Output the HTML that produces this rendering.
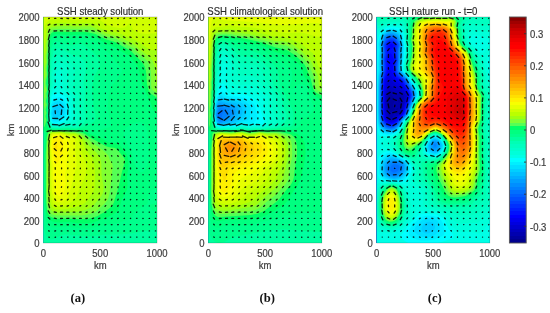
<!DOCTYPE html><html><head><meta charset="utf-8"><title>SSH figure</title><style>
html,body{margin:0;padding:0;background:#fff;width:550px;height:313px;overflow:hidden}
svg{display:block}
.tk{font-family:"Liberation Sans",Arial,sans-serif;font-size:9.5px;fill:#3d3d3d;stroke:#3d3d3d;stroke-width:0.2px}
.tk,.tt,.lb{white-space:pre}
.tt{font-family:"Liberation Sans",Arial,sans-serif;font-size:9.6px;fill:#2a2a2a;stroke:#2a2a2a;stroke-width:0.15px}
.lb{font-family:"Liberation Serif","Times New Roman",serif;font-size:12.6px;font-weight:bold;fill:#111}
</style></head><body><svg xmlns="http://www.w3.org/2000/svg" width="550" height="313" viewBox="0 0 550 313"><defs><clipPath id="cpa"><rect x="43.50" y="17.00" width="113.50" height="226.00"/></clipPath><clipPath id="cpb"><rect x="208.50" y="17.00" width="113.30" height="226.00"/></clipPath><clipPath id="cpc"><rect x="376.70" y="17.00" width="113.10" height="226.00"/></clipPath><filter id="bl" x="-2%" y="-2%" width="104%" height="104%"><feGaussianBlur stdDeviation="0"/></filter></defs><g clip-path="url(#cpa)"><g><rect x="43.50" y="17.00" width="113.50" height="226.00" fill="#00bfff"/><g transform="scale(.1)"><path fill="#00cfff" d="M440 170l1130 0 0 2260-5 0-1130 0 0-2260zM569 1105l-5 10 2 10 9 6 10-5 5-11-4-10-11-3z"/><path fill="#00dfff" d="M440 170l1130 0 0 2260-5 0-1130 0 0-2260zM583 1050l-43 24-18 56 13 45 10 5 25-5 25-10 20-14 13-16 4-15-5-30-12-26-15-14z"/><path fill="#00efff" d="M440 170l1130 0 0 2260-5 0-1130 0 0-2260zM571 1010l-26 12-20 24-6 49-9 35 10 60 5 10 10 6 10 1 39-12 31-16 25-23 10-21 3-30-11-45-18-35-24-16z"/><path fill="#00ffff" d="M440 170l1130 0 0 2260-5 0-1130 0 0-2260zM577 975l-37 10-10 10-19 55 1 40-9 40 6 35 1 31 10 18 25 13 20-1 25-8 44-28 21-22 13-28 3-35-15-70-16-37-15-16-15-9-15-3z"/><path fill="#00ffe6" d="M440 170l1130 0 0 2260-5 0-1130 0 0-2260zM544 940l-19 14-11 16 1 35-12 45 3 35-7 45 6 75 20 27 20 10 45-4 35-17 43-36 12-20 9-25 0-45-18-90-16-33-35-26-35-10z"/><path fill="#00ffd9" d="M440 170l1130 0 0 2260-5 0-1130 0 0-2260zM561 895l-21 8-10 8-26 59 3 35-9 45 3 35-6 45 3 70 17 35 20 16 55 1 34-12 55-35 19-25 9-20 4-50-16-110-13-35-25-25-62-43-15-5z"/><path fill="#00ffcc" d="M440 170l1130 0 0 2260-5 0-1130 0 0-2260zM584 700l-19 14-12 21-5 25 7 50-3 25-10 25-27 40-16 65 1 45-5 40-3 80 2 70 16 41 20 19 60 2 35-9 70-28 25-16 13-34 3-55-19-145-18-30-49-45-12-20-11-40-1-75-6-35-15-24-10-6z"/><path fill="#00ffc0" d="M440 170l1130 0 0 2260-5 0-1130 0 0-2260zM589 625l-24 13-14 17-32 90 11 80-6 30-20 45-10 70-6 160 3 70 13 45 11 15 10 7 75 3 50-14 45-9 50 3 10-5 10-15 3-20-2-60-13-100 0-65-10-30-49-65-12-25-3-25 0-115-11-45-16-25-22-20-20-10z"/><path fill="#00ffb4" d="M440 170l1130 0 0 2260-5 0-1130 0 0-2260zM571 555l-21 21-25 43-3 61-17 70 10 75-17 75-8 70-5 185 5 67 15 38 9 10 11 5 70 2 75-14 45 1 35 6 23-10 19-20 8-30 2-55-12-100 1-85-11-31-33-44-10-35 1-35 13-80-2-45-8-25-14-25-63-65-29-20-25-12-20-3z"/><path fill="#00ffa0" d="M440 170l1130 0 0 2260-5 0-1130 0 0-2260zM569 485l-34 26-12 59-17 50 3 55-12 75 6 80-16 130-6 135 0 75 8 70 16 31 10 8 15 4 70 0 80-10 70 7 30-7 25-13 23-20 20-30 8-25-13-125 8-150-15-80 22-140-2-55-17-30-41-30-98-38-85-49-25-6z"/><path fill="#00ff8c" d="M440 170l1130 0 0 2131-45-1-60 8-190 31-235 8-145 17-65-1-135-17-50-1-35 8-65 34-30 7-15-1-16-8-14-14-12-21-15-40-8-38 0-2102zM552 415l-15 15-29 65 2 60-13 65 1 55-7 75 1 85-12 165 1 50-4 45 0 75 4 65 6 20 17 25 21 8 70 1 80-6 80 6 66-14 94-40 30-25 8-15 3-20-2-30-21-90-1-80-7-80 2-55 21-85 37-65 12-30 3-35-6-25-18-30-27-30-85-75-34-20-35-7-65 14-25 1-30-6-100-33z"/><path fill="#00ff80" d="M440 170l1130 0 0 1741-11-11-19-5-15 1-16 9-12 15-9 25-12 90-11 10-55 27-30 24-67 74-28 20-35 18-65 19-155 28-130 31-80 2-145-21-145 7-35-14-15-14-17-26-9-25-5-30-12-190 3-75-2-360 4-180-2-19-5-9 0-1162zM542 375l-12 8-12 17-22 100 2 45-8 75-7 280-9 105 4 45-7 45 5 35-5 35 5 35-1 40 15 38 15 12 25 5 140-3 90 5 90-4 85 6 40 0 40-7 85-22 13-15-1-25-17-50-16-90-1-60 10-90 17-55 17-35 78-100 16-25 5-25-7-20-59-54-24-51-29-35-123-95-59-35-53-20-52-11-30 0-100 13-50-5-65-15zM1355 1225l-50 22-45 30-20 28-4 30 8 35 26 65 47 90 19 90 29 63 23 32 22 12 20-5 20-20 18-37 13-40 8-50-1-120-14-125-9-40-10-25-16-20-24-14-30-6zM1570 2021l0 98-20-2-25-17-22-30-2-10 2-10 12-7 40-11z"/><path fill="#00ff66" d="M440 170l1130 0 0 970-27-30-19-30-26-80-35-65-13-35-30-60-12-40-15-90-16-45-38-55-55-55-129-80-100-43-90-52-40-16-55-13-55-6-140 7-115-11-30 8-20 26-10 25-11 90-11 200 1 60-6 70 5 80-6 35 2 35-7 35 7 45-9 40 6 40-6 30 2 20 5 20-6 35 2 20 11 30 11 10 35 5 150 0 160 13 30 9 45 22 95 30 80 50 20 5 50 2 25 9 30 26 57 79 13 35 6 60-2 45-14 67 6 98-6 45-53 105-28 90-18 25-26 21-65 34-120 45-50 15-50 6-60-1-105-16-100 6-45-2-40-16-20-15-15-18-10-24-6-30-11-150 0-430 11-205-7-20-17-13 0-1132z"/><path fill="#55ff55" d="M440 170l1130 0 0 811-10-11-50-32-24-33-17-70-5-90-7-45-12-40-21-35-114-115-150-85-25-11-80-22-100-53-75-17-65-5-130 3-125-5-30 5-20 14-10 23-11 43-13 155 1 65-8 60 4 70-9 50-2 35 11 65-8 35 4 35-10 40 10 40-13 45 9 35-8 25-1 15 9 30-17 60-3 7-10 3 0-1100zM495 1309l145-3 125 9 55 12 30 13 60 39 150 83 30 10 50 6 15 5 20 17 55 64 18 31 1 20-29 100-34 155-48 155-16 30-24 25-62 45-61 34-55 21-55 11-65 2-105-9-125 4-50-13-20-12-13-13-16-35-11-120-3-445 11-185 12-45z"/><path fill="#80ff33" d="M440 170l1130 0 0 760-40-25-15-25-4-35-1-125-13-60-17-40-25-28-70-58-50-52-115-61-60-33-95-24-105-51-60-18-45-3-265-3-60 6-25 12-10 15-6 18-15 105 0 55-9 65 4 55-11 65 7 65-12 45-4 35 3 35 11 35-10 30 0 35-6 15-2 20 2 25 9 25-10 15-11 37 0-932zM515 1314l105-2 135 10 46 13 42 25 82 71 82 54 53 45 23 25 17 45 23 40 5 25-32 265-11 45-15 32-18 23-53 50-39 34-30 15-56 16-64 9-240 2-50-12-15-9-13-15-18-85-8-125 1-370 4-105 8-75 14-35z"/><path fill="#a0ff10" d="M440 170l1130 0 0 688-7-28-9-135-12-45-18-45-27-35-91-65-36-38-45-32-140-69-125-33-60-24-55-31-30-10-40-5-80 3-170-7-55 4-60 12-15 9-10 13-13 63-10 90 2 50-10 55 4 65-11 60 3 70-15 79 0-659zM525 1319l85-2 75 11 65 2 35 12 27 18 21 20 62 82 70 66 28 37 13 30 7 35 2 125 20 100 0 45-7 30-15 30-84 100-27 20-37 16-50 14-60 10-175 5-50-10-15-10-8-10-20-65-12-125 1-360 4-110 8-75 13-30z"/><path fill="#bbff00" d="M440 170l1130 0 0 339-15-10-40 3-20-5-115-81-60-31-55-22-85-35-85-17-85-27-10-5-35-32-45-14-45-3-95 4-175-6-50 5-45 11-34 21-10 15-4 15-27 378 0-503zM535 1325l65-2 85 16 65 1 29 15 36 40 16 30 24 65 55 75 20 35 12 40 6 65 2 50-4 125-14 35-47 75-24 30-21 17-37 18-53 17-90 18-50 6-35-2-30-7-20-15-13-22-10-35-16-115 3-70-4-80 4-70-4-85 2-145 6-75 6-25 11-17z"/><path fill="#d0ff00" d="M440 170l1130 0 0 161-115 10-70-14-29-12-20-15-14-20-6-20-5-20-11-9-15 8-25 29-20 9-40 3-63-10-67-20-65-45-65-12-55-1-140 7-160-11-65 5-25 7-20 15-20 28-13 27-3 25 2 95-6 67 0-287zM560 1330l45-1 80 22 59 4 24 15 24 40 20 105 44 105 7 35 1 40-12 70-55 115-31 85-16 25-20 20-38 25-32 15-35 10-35 3-25-4-20-10-15-19-10-27-20-103 2-70-5-80 4-70-6-85 1-155 5-65 9-30 15-11z"/><path fill="#e6ff00" d="M1075 170l116 0-11 4-50 8zM540 1339l65-2 65 26 55 13 20 14 10 25 2 25-6 70 15 100-2 55-72 275-13 30-20 25-29 19-30 9-25-3-17-10-13-18-24-72-10-170 4-80-8-70-5-125 5-80 5-30 11-20z"/><path fill="#f8ff00" d="M545 1349l50-4 17 5 70 50 10 10 6 15 0 20-18 100-15 60-1 75-14 70 7 55-1 40-9 45-12 35-10 16-15 14-15 5-10-2-15-9-10-13-15-42-5-74-10-70 5-80-14-70-2-55-9-65 5-80 5-25 10-19z"/><path fill="#fff000" d="M550 1364l35-3 20 7 17 22 12 35 1 25-10 75-36 85-7 15-7 7-10-3-15-19-6-15-7-55-16-55 7-90 8-20z"/><path fill="#ffdf00" d="M560 1438l10 7 4 20-9 30-10 0-10-12-1-13 6-18z"/></g><path fill="none" stroke="#000" stroke-linecap="round" stroke-width="1.35" stroke-opacity="0.85" d="M49.3 18.3l-0.6 0.2M55.8 18.4l-1.1 0.0M62.3 18.5l-1.4-0.1M68.6 18.5l-1.6-0.2M74.9 18.4l-1.6 0.0M81.1 18.3l-1.5 0.1M87.4 18.4l-1.5 0.1M93.6 18.4l-1.4-0.1M99.8 18.6l-1.3-0.3M105.9 18.6l-0.9-0.4M112.0 18.4l-0.6-0.1M118.2 18.3l-0.5 0.2M124.5 18.2l-0.6 0.3M130.8 18.4l-0.7 0.0M136.9 18.5l-0.3-0.2M143.1 18.4l-0.1-0.0M149.4 18.3l-0.1 0.2M155.6 18.4l-0.1 0.1M49.9 24.2l-1.7 1.0M56.2 24.5l-1.9 0.3M62.5 24.6l-2.0 0.1M68.8 24.7l-2.0-0.1M75.1 24.7l-2.1-0.1M81.3 24.6l-1.9 0.1M87.6 24.6l-1.9 0.0M93.7 24.9l-1.6-0.4M99.4 25.0l-0.6-0.7M105.8 24.9l-0.8-0.5M112.1 24.8l-0.8-0.2M118.3 24.6l-0.6 0.0M124.4 24.5l-0.4 0.3M130.5 24.7l-0.1-0.2M136.8 24.9l-0.1-0.5M143.1 24.7l-0.1-0.0M149.4 24.6l-0.1 0.1M155.6 24.6l0.1 0.1M49.7 29.4l-1.3 2.9M56.6 30.8l-2.6 0.2M62.6 30.9l-2.2-0.1M68.8 30.9l-2.1-0.0M75.2 30.9l-2.2 0.0M81.6 30.9l-2.5 0.0M87.7 31.0l-2.2-0.2M94.0 31.2l-2.2-0.6M100.4 31.6l-2.5-1.3M106.3 31.2l-1.8-0.6M112.5 31.0l-1.5-0.3M118.6 31.1l-1.3-0.3M124.6 31.0l-0.7-0.2M130.7 31.0l-0.4-0.2M137.0 31.0l-0.5-0.3M143.3 30.9l-0.6-0.0M149.6 30.9l-0.5 0.0M155.9 30.9l-0.7 0.0M49.5 34.7l-1.1 4.9M56.2 37.0l-1.8 0.3M62.4 37.3l-1.7-0.4M68.6 37.2l-1.6-0.0M74.9 37.0l-1.6 0.2M81.2 37.2l-1.7-0.0M87.4 37.3l-1.6-0.4M93.6 37.4l-1.5-0.5M100.0 37.7l-1.8-1.0M106.5 37.6l-2.0-0.8M112.8 37.3l-2.1-0.4M118.9 37.6l-1.9-0.8M125.0 37.5l-1.5-0.7M131.0 37.4l-1.1-0.4M137.1 37.3l-0.7-0.3M143.3 37.2l-0.5-0.1M149.6 37.1l-0.5 0.1M155.8 37.2l-0.4-0.0M49.3 40.7l-0.6 5.4M55.7 43.1l-0.9 0.6M62.1 43.6l-1.2-0.4M68.3 43.5l-1.0-0.2M74.5 43.3l-0.8 0.2M80.7 43.4l-0.6-0.0M87.0 43.6l-0.7-0.4M93.3 43.6l-0.8-0.5M99.6 43.7l-0.9-0.7M106.0 43.7l-1.2-0.6M112.4 43.6l-1.3-0.4M118.7 43.8l-1.4-0.9M125.1 43.8l-1.7-0.9M131.3 43.8l-1.6-0.8M137.3 43.8l-1.1-0.8M143.3 43.6l-0.6-0.4M149.5 43.4l-0.3-0.0M155.7 43.4l-0.3-0.0M49.2 46.9l-0.4 5.5M55.6 49.4l-0.6 0.5M62.0 49.8l-0.9-0.3M68.2 49.9l-0.8-0.5M74.4 49.6l-0.6 0.0M80.6 49.7l-0.4-0.1M86.8 49.8l-0.4-0.4M93.1 49.8l-0.4-0.3M99.4 49.9l-0.5-0.5M105.7 49.9l-0.6-0.4M112.0 49.8l-0.7-0.4M118.4 49.9l-0.9-0.5M124.8 50.0l-1.2-0.7M131.2 50.1l-1.4-0.8M137.4 50.3l-1.2-1.4M143.5 50.0l-1.0-0.7M149.6 49.8l-0.6-0.3M155.7 49.7l-0.3-0.1M49.2 53.2l-0.4 5.5M55.7 55.3l-0.8 1.2M62.0 56.1l-0.9-0.3M68.2 56.2l-0.9-0.6M74.4 56.0l-0.6-0.3M80.6 56.0l-0.4-0.2M86.8 56.1l-0.4-0.3M93.1 56.1l-0.3-0.4M99.3 56.1l-0.3-0.4M105.6 56.1l-0.3-0.4M111.8 56.1l-0.3-0.4M118.1 56.0l-0.4-0.3M124.5 56.1l-0.6-0.4M130.9 56.3l-0.8-0.8M137.3 56.5l-1.1-1.1M143.7 56.4l-1.3-1.0M149.8 56.3l-1.0-0.7M155.7 56.2l-0.3-0.5M49.1 59.4l-0.2 5.5M55.7 61.7l-0.8 0.9M62.0 62.3l-0.9-0.3M68.2 62.5l-0.7-0.8M74.3 62.4l-0.5-0.5M80.5 62.3l-0.3-0.3M86.7 62.4l-0.2-0.4M92.9 62.4l-0.1-0.4M99.2 62.4l-0.1-0.4M105.5 62.4l-0.1-0.5M111.8 62.3l-0.1-0.4M118.1 62.2l-0.2-0.1M124.4 62.2l-0.3-0.2M130.7 62.4l-0.4-0.5M137.1 62.6l-0.7-0.8M143.5 62.6l-0.8-1.0M149.7 62.8l-0.7-1.2M155.8 62.6l-0.4-1.0M49.2 65.7l-0.4 5.5M55.7 67.6l-0.8 1.6M61.9 68.7l-0.6-0.5M68.0 68.9l-0.4-1.0M74.2 68.7l-0.2-0.7M80.4 68.7l-0.1-0.5M86.6 68.7l0.1-0.5M92.8 68.6l0.2-0.5M99.1 68.6l0.2-0.4M105.4 68.6l0.1-0.4M111.7 68.5l-0.0-0.3M118.0 68.5l-0.1-0.1M124.3 68.5l-0.0-0.1M130.6 68.6l-0.1-0.4M136.9 68.7l-0.2-0.7M143.2 68.9l-0.3-1.0M149.5 69.0l-0.3-1.3M155.7 69.0l-0.3-1.2M49.1 71.9l-0.2 5.5M55.4 74.1l-0.2 1.0M61.6 75.0l-0.2-0.7M67.8 75.2l-0.0-1.1M74.1 75.0l0.1-0.7M80.3 75.0l0.1-0.6M86.5 75.0l0.1-0.6M92.8 74.9l0.2-0.6M99.0 74.8l0.2-0.3M105.4 74.8l0.2-0.3M111.7 74.8l0.1-0.2M117.9 74.7l0.1-0.1M124.2 74.7l0.1-0.1M130.5 74.8l0.0-0.3M136.8 74.9l-0.1-0.6M143.1 75.1l-0.1-1.0M149.4 75.3l-0.1-1.3M155.6 75.3l-0.1-1.2M49.0 78.2l-0.0 5.5M55.2 80.0l0.1 1.8M61.5 81.3l0.0-0.8M67.8 81.5l0.1-1.2M74.0 81.3l0.1-0.8M80.3 81.2l0.1-0.6M86.6 81.2l0.1-0.7M92.8 81.2l0.1-0.6M99.1 81.1l0.2-0.3M105.3 81.0l0.2-0.2M111.6 81.0l0.1-0.2M117.9 81.0l0.2-0.2M124.2 81.0l0.2-0.1M130.5 81.0l0.1-0.1M136.8 81.1l-0.1-0.4M143.1 81.4l-0.2-1.0M149.3 81.6l0.0-1.4M155.6 81.4l-0.0-1.1M49.2 84.4l-0.5 5.5M55.8 86.6l-1.1 1.1M61.8 87.7l-0.6-1.0M68.0 87.7l-0.4-1.2M74.2 87.6l-0.2-1.0M80.4 87.4l-0.1-0.5M86.7 87.5l-0.1-0.7M92.9 87.5l0.0-0.7M99.1 87.3l0.1-0.3M105.4 87.2l0.1-0.2M111.6 87.3l0.1-0.2M117.9 87.3l0.2-0.2M124.2 87.2l0.2-0.1M130.5 87.1l0.1 0.0M136.9 87.2l-0.2-0.1M143.3 87.6l-0.6-1.0M149.5 88.0l-0.3-1.7M155.8 87.6l-0.4-0.8M49.4 90.7l-0.7 5.5M56.0 93.2l-1.4 0.3M62.5 93.9l-2.0-1.0M68.7 94.2l-1.7-1.6M74.6 94.1l-1.1-1.4M80.5 93.8l-0.3-0.9M86.6 93.8l0.0-0.8M92.9 93.8l-0.1-0.7M99.3 93.6l-0.2-0.4M105.4 93.5l-0.0-0.3M111.7 93.5l0.1-0.3M117.9 93.5l0.1-0.2M124.2 93.4l0.0-0.0M130.6 93.3l-0.1 0.2M136.8 93.3l-0.1 0.1M143.2 93.7l-0.3-0.7M149.9 94.1l-1.1-1.4M156.3 93.8l-1.5-0.7M49.0 96.9l-0.1 5.5M56.5 99.3l-2.5 0.7M62.5 100.2l-1.9-1.1M68.2 100.9l-0.8-2.5M74.1 100.6l-0.1-1.9M80.3 100.3l0.0-1.3M86.6 100.1l0.1-0.8M92.9 99.9l0.0-0.6M99.2 99.9l0.0-0.4M105.4 99.8l0.0-0.4M111.7 99.8l0.0-0.3M118.0 99.7l0.0-0.2M124.3 99.6l-0.0 0.0M130.5 99.6l-0.0 0.2M136.8 99.6l0.0 0.1M143.0 99.8l0.1-0.4M149.5 100.0l-0.3-0.8M155.8 100.0l-0.4-0.7M49.1 103.2l-0.3 5.5M57.5 105.1l-4.5 1.6M63.0 107.3l-3.0-2.9M68.3 107.8l-1.0-3.7M74.2 107.0l-0.3-2.2M80.4 106.6l-0.1-1.3M86.6 106.3l-0.0-0.8M92.9 106.2l-0.1-0.5M99.2 106.1l-0.0-0.4M105.4 106.1l-0.0-0.4M111.7 106.1l0.0-0.3M118.0 106.0l0.0-0.1M124.2 105.9l-0.0 0.1M130.5 105.8l-0.0 0.2M136.8 105.9l0.0 0.0M143.0 106.0l0.0-0.3M149.4 106.2l-0.1-0.5M155.7 106.2l-0.3-0.6M49.1 109.4l-0.3 5.5M55.1 110.8l0.3 2.7M61.3 114.4l0.4-4.5M67.7 114.3l0.2-4.3M74.2 113.3l-0.2-2.4M80.4 112.9l-0.2-1.5M86.7 112.5l-0.2-0.8M93.0 112.4l-0.2-0.5M99.2 112.4l-0.1-0.5M105.5 112.4l-0.1-0.4M111.7 112.3l-0.1-0.3M118.0 112.2l-0.1-0.2M124.3 112.1l-0.1 0.1M130.6 112.1l-0.1 0.1M136.8 112.1l-0.1 0.0M143.1 112.2l-0.2-0.2M149.5 112.3l-0.3-0.4M155.8 112.4l-0.4-0.5M48.8 115.7l0.4 5.5M52.8 118.3l4.9 0.2M59.4 119.9l4.3-2.9M66.8 119.8l1.9-2.8M74.0 119.2l0.2-1.7M80.3 119.2l0.1-1.6M86.6 118.8l0.1-0.7M92.8 118.7l0.1-0.6M99.1 118.6l0.1-0.5M105.4 118.6l-0.0-0.4M111.8 118.5l-0.1-0.3M118.1 118.5l-0.2-0.1M124.3 118.4l-0.2 0.1M130.6 118.3l-0.2 0.1M136.9 118.4l-0.2 0.0M143.1 118.4l-0.2-0.1M149.4 118.5l-0.2-0.2M155.8 118.6l-0.4-0.4M48.0 122.1l2.0 5.1M52.5 124.5l5.5 0.3M59.1 125.7l5.0-2.1M65.8 125.1l4.1-0.8M73.1 124.8l1.9-0.3M79.5 125.6l1.6-1.9M86.0 125.0l1.2-0.7M92.5 124.8l0.8-0.3M98.9 124.8l0.4-0.3M105.3 124.8l0.2-0.2M111.7 124.8l0.0-0.2M118.0 124.7l-0.1-0.0M124.3 124.6l-0.2 0.1M130.6 124.6l-0.2 0.1M136.9 124.6l-0.2 0.0M143.1 124.7l-0.1-0.1M149.3 124.8l-0.1-0.2M155.6 124.8l0.1-0.4M47.1 131.5l3.9-1.2M52.5 131.0l5.5-0.1M58.3 130.7l6.4 0.3M64.2 130.6l7.2 0.6M70.1 130.7l7.9 0.4M78.0 130.7l4.7 0.5M85.5 130.6l2.1 0.5M92.4 130.8l1.1 0.1M98.8 130.9l0.7-0.0M105.2 131.0l0.5-0.1M111.5 130.9l0.4 0.1M117.9 130.8l0.1 0.1M124.3 130.8l-0.1 0.2M130.6 130.8l-0.1 0.1M136.9 130.9l-0.1-0.0M143.1 131.0l-0.1-0.2M149.3 131.1l-0.0-0.3M155.6 131.1l-0.0-0.4M48.5 139.9l1.0-5.4M53.7 137.7l3.2-1.1M60.2 136.2l2.8 2.0M66.3 136.5l3.0 1.2M73.1 136.7l1.9 0.9M79.3 136.0l2.2 2.3M85.6 136.3l2.0 1.7M92.1 136.8l1.6 0.7M98.6 136.9l1.1 0.4M105.2 137.0l0.4 0.4M111.7 137.1l-0.0 0.1M117.8 137.0l0.3 0.2M124.2 137.0l0.1 0.3M130.5 137.1l-0.0 0.2M136.8 137.2l-0.1-0.0M143.1 137.3l-0.1-0.2M149.3 137.3l-0.0-0.4M155.6 137.4l-0.0-0.4M48.7 146.1l0.6-5.5M54.3 144.4l2.0-2.0M60.7 142.2l1.6 2.5M67.6 142.4l0.5 2.0M74.1 142.7l-0.0 1.3M80.2 142.5l0.4 1.7M86.2 142.7l0.9 1.5M92.3 143.0l1.2 0.9M98.5 143.0l1.2 0.7M104.8 143.1l1.2 0.7M111.0 143.4l1.4 0.1M117.5 143.2l0.9 0.5M124.1 143.1l0.4 0.7M130.5 143.2l0.1 0.3M136.8 143.4l-0.0 0.0M143.1 143.5l-0.1-0.2M149.3 143.6l-0.0-0.4M155.6 143.6l-0.0-0.4M49.0 152.4l-0.1-5.5M56.2 150.6l-1.9-1.9M62.2 148.2l-1.3 2.8M68.1 148.5l-0.5 2.2M74.1 149.1l-0.1 1.1M80.2 149.0l0.2 1.2M86.3 149.1l0.7 1.0M92.5 149.3l0.9 0.7M98.7 149.3l0.8 0.7M105.0 149.4l0.9 0.6M111.3 149.6l0.9 0.1M117.6 149.2l0.8 0.9M123.8 149.1l0.8 1.1M130.3 149.3l0.3 0.6M136.8 149.6l0.0 0.1M143.1 149.8l-0.0-0.2M149.3 149.9l-0.0-0.4M155.6 149.9l-0.0-0.4M49.2 158.6l-0.3-5.5M56.2 156.7l-1.8-1.6M62.5 155.1l-1.9 1.6M68.1 155.3l-0.5 1.2M74.0 155.5l0.1 0.8M80.2 155.5l0.3 0.9M86.4 155.5l0.5 0.8M92.6 155.5l0.5 0.7M98.9 155.5l0.5 0.8M105.3 155.6l0.3 0.6M111.6 155.8l0.2 0.2M117.7 155.7l0.5 0.5M123.8 155.3l0.8 1.2M130.4 155.3l0.2 1.2M136.7 155.8l0.1 0.2M143.0 156.0l0.0-0.2M149.3 156.1l0.0-0.4M155.6 156.1l0.0-0.4M49.2 164.9l-0.5-5.5M55.7 162.7l-0.9-1.1M61.6 161.7l-0.1 1.0M67.9 161.8l-0.1 0.6M74.1 161.8l-0.0 0.7M80.3 161.8l0.1 0.7M86.5 161.8l0.2 0.8M92.8 161.8l0.2 0.8M99.1 161.7l0.2 0.9M105.4 161.8l0.1 0.7M111.6 162.0l0.1 0.2M118.0 162.0l0.0 0.3M124.4 161.5l-0.2 1.2M130.3 161.5l0.3 1.3M136.7 162.0l0.2 0.3M143.0 162.2l0.1-0.2M149.3 162.3l0.1-0.4M155.6 162.3l0.0-0.4M49.0 171.0l0.1-5.3M55.3 169.1l-0.1-1.4M61.6 168.0l-0.0 0.7M67.9 168.0l-0.1 0.7M74.1 168.1l-0.1 0.6M80.4 168.1l-0.1 0.6M86.6 168.1l0.0 0.7M92.9 168.0l0.1 0.8M99.2 167.9l0.0 0.9M105.4 168.1l-0.0 0.7M111.7 168.2l-0.0 0.3M118.1 168.1l-0.2 0.6M124.4 167.8l-0.4 1.1M130.5 167.9l-0.0 1.0M136.7 168.2l0.2 0.3M143.0 168.5l0.2-0.1M149.3 168.6l0.1-0.3M155.6 168.6l0.0-0.3M49.0 177.3l0.1-5.4M55.3 175.2l-0.0-1.2M61.6 174.2l-0.0 0.9M67.9 174.3l-0.1 0.7M74.2 174.4l-0.2 0.6M80.4 174.4l-0.2 0.5M86.7 174.4l-0.1 0.6M92.9 174.3l-0.0 0.7M99.1 174.2l0.1 1.0M105.4 174.3l0.0 0.7M111.7 174.5l-0.1 0.4M118.1 174.3l-0.2 0.8M124.3 174.1l-0.2 1.1M130.5 174.3l0.0 0.6M136.7 174.5l0.1 0.3M143.0 174.7l0.1-0.0M149.3 174.8l0.0-0.2M155.6 174.8l-0.1-0.3M49.1 183.5l-0.2-5.1M55.4 181.6l-0.3-1.5M61.5 180.6l-0.0 0.7M67.8 180.4l-0.0 1.0M74.2 180.6l-0.2 0.7M80.5 180.6l-0.3 0.5M86.7 180.7l-0.2 0.5M92.9 180.6l-0.1 0.6M99.1 180.5l0.1 0.8M105.3 180.5l0.2 0.8M111.7 180.6l-0.1 0.6M118.1 180.5l-0.2 0.8M124.3 180.5l-0.0 0.9M130.4 180.6l0.1 0.5M136.7 180.8l0.1 0.3M143.0 180.9l0.1 0.1M149.4 180.9l-0.1-0.1M155.7 181.0l-0.2-0.2M48.8 189.7l0.4-5.0M55.3 187.8l-0.1-1.4M61.6 186.8l-0.2 0.6M67.9 186.6l-0.3 1.1M74.2 186.8l-0.3 0.7M80.5 186.9l-0.3 0.5M86.7 187.0l-0.2 0.4M92.9 186.9l-0.1 0.4M99.1 186.8l0.1 0.7M105.4 186.7l0.0 0.9M111.8 186.7l-0.1 0.8M118.1 186.8l-0.2 0.7M124.3 186.8l-0.1 0.7M130.5 186.9l-0.0 0.4M136.8 187.0l0.1 0.3M143.1 187.1l-0.0 0.2M149.4 187.1l-0.1 0.0M155.7 187.2l-0.2-0.1M49.4 195.8l-0.8-4.8M55.6 194.1l-0.6-1.3M61.8 193.1l-0.5 0.5M68.0 192.9l-0.3 1.0M74.2 193.1l-0.2 0.7M80.4 193.1l-0.2 0.5M86.7 193.2l-0.1 0.4M93.0 193.2l-0.3 0.4M99.4 193.1l-0.4 0.7M105.6 192.9l-0.2 0.9M111.8 193.0l-0.2 0.9M118.1 193.0l-0.3 0.8M124.4 193.1l-0.3 0.6M130.6 193.2l-0.2 0.3M136.9 193.3l-0.2 0.2M143.1 193.3l-0.1 0.2M149.3 193.4l-0.0 0.1M155.6 193.4l-0.0-0.0M49.2 201.8l-0.4-4.3M55.7 200.3l-0.9-1.3M62.0 199.5l-1.0 0.4M68.2 199.2l-0.8 0.8M74.3 199.4l-0.5 0.6M80.5 199.4l-0.4 0.4M86.8 199.4l-0.3 0.5M93.1 199.4l-0.5 0.6M99.5 199.3l-0.6 0.7M105.7 199.3l-0.5 0.7M111.8 199.2l-0.3 0.9M118.1 199.2l-0.3 0.9M124.4 199.3l-0.4 0.6M130.6 199.5l-0.2 0.2M136.9 199.6l-0.2 0.1M143.1 199.6l-0.1 0.1M149.3 199.6l0.0 0.0M155.6 199.7l0.0-0.0M49.5 207.7l-0.9-3.7M56.1 206.3l-1.6-0.9M62.4 205.8l-1.7 0.2M68.5 205.7l-1.3 0.5M74.6 205.7l-1.0 0.3M80.8 205.7l-0.9 0.3M87.0 205.7l-0.8 0.5M93.2 205.6l-0.7 0.6M99.5 205.5l-0.6 0.7M105.8 205.6l-0.7 0.6M112.0 205.5l-0.6 0.8M118.1 205.5l-0.3 0.8M124.2 205.6l0.0 0.5M130.5 205.8l-0.0 0.2M136.8 205.8l-0.1 0.1M143.1 205.9l-0.1 0.0M149.3 205.9l-0.0-0.0M155.6 205.9l0.1-0.0M49.7 213.4l-1.4-2.5M56.3 212.4l-2.0-0.4M62.6 212.1l-2.1 0.1M68.8 212.1l-1.9 0.1M74.9 212.1l-1.7 0.0M81.1 212.0l-1.4 0.2M87.2 212.0l-1.2 0.3M93.4 211.9l-1.1 0.5M99.7 211.8l-1.0 0.7M105.9 211.9l-0.9 0.6M112.1 211.9l-0.7 0.5M118.2 211.9l-0.4 0.4M124.3 212.0l-0.2 0.3M130.6 212.0l-0.1 0.3M136.8 212.1l-0.1 0.1M143.1 212.1l-0.2 0.0M149.4 212.2l-0.2-0.1M155.7 212.2l-0.2-0.0M49.8 219.1l-1.5-1.5M56.2 218.6l-1.8-0.4M62.5 218.4l-1.9 0.1M68.8 218.3l-2.0 0.1M75.0 218.5l-1.8-0.2M81.2 218.4l-1.6-0.0M87.3 218.3l-1.4 0.2M93.6 218.2l-1.3 0.4M99.8 218.1l-1.2 0.5M105.9 218.2l-0.9 0.4M112.1 218.3l-0.7 0.3M118.2 218.3l-0.6 0.2M124.5 218.3l-0.4 0.2M130.7 218.3l-0.3 0.2M136.9 218.3l-0.3 0.1M143.2 218.4l-0.3 0.1M149.5 218.4l-0.3 0.0M155.8 218.4l-0.4-0.0M49.4 225.0l-0.8-0.7M55.9 224.7l-1.2-0.1M62.2 224.6l-1.4 0.1M68.4 224.7l-1.3-0.0M74.7 224.8l-1.3-0.2M81.0 224.7l-1.3-0.1M87.2 224.6l-1.3 0.1M93.5 224.5l-1.1 0.3M99.6 224.5l-1.0 0.3M105.8 224.6l-0.8 0.2M112.0 224.6l-0.7 0.1M118.3 224.6l-0.6 0.1M124.5 224.6l-0.5 0.1M130.7 224.6l-0.4 0.1M137.0 224.6l-0.3 0.1M143.2 224.6l-0.3 0.1M149.5 224.6l-0.3 0.1M155.7 224.7l-0.3-0.0M49.2 231.1l-0.5-0.3M55.6 230.8l-0.7 0.2M61.9 230.9l-0.7 0.1M68.2 230.9l-0.8-0.1M74.5 231.0l-0.8-0.2M80.8 231.0l-0.9-0.1M87.1 230.9l-0.9 0.0M93.3 230.8l-0.8 0.2M99.5 230.8l-0.7 0.2M105.7 230.9l-0.6 0.0M112.0 230.9l-0.6 0.0M118.2 230.9l-0.5 0.0M124.5 230.9l-0.5 0.1M130.7 230.9l-0.4 0.1M137.0 230.9l-0.4 0.1M143.2 230.9l-0.3 0.1M149.5 230.9l-0.3 0.0M155.7 230.9l-0.3-0.0M49.2 237.3l-0.3-0.2M55.5 237.1l-0.4 0.2M61.7 237.1l-0.4 0.2M68.0 237.1l-0.4 0.0M74.3 237.2l-0.5-0.1M80.7 237.2l-0.6-0.1M86.9 237.2l-0.6-0.0M93.2 237.1l-0.6 0.0M99.4 237.1l-0.5 0.1M105.7 237.1l-0.5 0.0M111.9 237.2l-0.5-0.0M118.2 237.2l-0.4-0.0M124.5 237.1l-0.4 0.0M130.7 237.1l-0.4 0.0M137.0 237.1l-0.4 0.0M143.2 237.1l-0.3 0.0M149.5 237.1l-0.3 0.0M155.7 237.2l-0.3-0.0"/></g></g><rect x="43.50" y="17.00" width="113.50" height="226.00" fill="none" stroke="#262626" stroke-opacity="0.35" stroke-width="0.6"/><g clip-path="url(#cpb)"><g><rect x="208.50" y="17.00" width="113.30" height="226.00" fill="#0070ff"/><g transform="scale(.1)"><path fill="#0080ff" d="M2090 170l1128 0 0 2260-5 0-1128 0 0-2260zM2201 1110l-16 20-7 20 12 25 10 8 10-1 9-12 2-20 9-25-3-10-7-7-10-2z"/><path fill="#008fff" d="M2090 170l1128 0 0 2260-5 0-1128 0 0-2260zM2197 1080l-27 60 1 20 14 30 15 14 15-1 20-13 44-45 4-10-1-15-12-18-25-15-30-10z"/><path fill="#009fff" d="M2090 170l1128 0 0 2260-5 0-1128 0 0-2260zM2189 1055l-6 10-20 85 22 59 15 10 15-1 60-33 31-20 15-20 4-25-7-20-16-15-22-10-75-22z"/><path fill="#00afff" d="M2090 170l1128 0 0 2260-5 0-1128 0 0-2260zM2190 1035l-10 8-7 12-2 40-12 55 21 67 15 11 20 1 84-34 32-20 23-30 6-30-10-28-17-17-20-10-78-16-30-11z"/><path fill="#00bfff" d="M2090 170l1128 0 0 2260-5 0-1128 0 0-2260zM2199 1015l-19 13-14 27-1 40-10 55 20 72 20 15 20 2 106-34 38-25 24-30 10-35-3-20-7-15-19-20-29-16-75-13-45-15z"/><path fill="#00cfff" d="M2090 170l1128 0 0 2260-5 0-1128 0 0-2260zM2192 1000l-17 20-14 30-1 40-7 55 12 66 9 19 21 15 20 2 105-23 30-14 45-30 25-35 6-20 0-25-5-20-9-15-23-20-39-17-90-13-50-19z"/><path fill="#00dfff" d="M2090 170l1128 0 0 2260-5 0-1128 0 0-2260zM2190 980l-15 24-19 46-6 105 11 60 10 20 19 15 25 5 55-12 65-6 47-22 49-30 15-15 8-15 8-30 2-25-5-25-12-20-30-25-43-17-39-8-75-6-50-23-10-1z"/><path fill="#00efff" d="M2090 170l1128 0 0 2260-5 0-1128 0 0-2260zM2194 955l-19 23-22 72-6 110 12 60 11 21 15 13 20 7 70-9 65-2 79-33 65-17 14-15 10-95-6-25-14-20-34-28-40-17-59-13-95-5-18-7-27-22-10-1z"/><path fill="#00ffff" d="M2090 170l1128 0 0 2260-5 0-1128 0 0-2260zM2209 915l-19 20-20 30-21 85-4 115 10 56 15 28 20 15 25 4 65-8 65 1 79-28 25-2 27 4 28 3 24-8 27-20 15-25 0-25-14-80-9-25-13-20-43-35-52-22-70-12-106-6-13-10-25-35-10-2z"/><path fill="#00ffe6" d="M2090 170l1128 0 0 2260-5 0-1128 0 0-2260zM2224 835l-14 13-20 37-9 35-21 50-13 75-5 75 1 50 9 55 12 25 21 17 25 6 70-5 70 2 49-18 30-6 25 1 45 11 34-8 41-10 45 5 14-10 7-15-2-25-21-55-18-80-17-35-19-20-39-27-50-26-50-10-109-7-25-7-18-18-32-67-10-8z"/><path fill="#00ffd9" d="M2090 170l1128 0 0 2260-5 0-1128 0 0-2260zM2236 635l-9 10-6 15-9 55-16 50-5 60-36 145-11 70-6 70 2 60 7 50 8 25 10 14 13 11 32 8 65-3 75 2 74-20 25 1 50 12 50-11 25-2 40 7 15-2 26-17 15-25 0-40-19-70-13-85-8-30-11-15-15-12-105-57-40-7-114-2-25-7-15-10-14-25-25-80-1-116-12-24-8-6z"/><path fill="#00ffcc" d="M2090 170l1128 0 0 2260-5 0-1128 0 0-2260zM2239 555l-14 6-10 14-21 65-5 75-12 55-1 60-11 50-3 35-19 110-8 80 2 70 7 50 8 25 11 15 12 9 35 9 135 0 79-17 75 12 60-9 35 1 30 3 36-13 32-25 15-30 0-25-24-100-1-85-8-29-15-20-20-18-80-56-35-19-45-8-105 7-24-7-15-11-21-29-14-35 13-75-2-30-7-30-29-55-20-20z"/><path fill="#00ffc0" d="M2090 170l1128 0 0 2260-5 0-1128 0 0-2260zM2226 505l-16 13-11 22-21 100-2 70-11 60 0 60-33 260 2 100 8 45 8 22 10 13 14 10 36 8 130 1 79-15 85 12 60-9 55 4 32-6 53-19 40-7 15-12 7-17-1-30-28-65-15-55-1-25 8-55-9-30-22-30-57-60-57-68-35-32-40-14-90 3-19-4-11-7-12-18-38-105-41-70-19-25-19-18-20-8z"/><path fill="#00ffb4" d="M2090 170l1128 0 0 2260-5 0-1128 0 0-2260zM2213 470l-18 22-18 63-12 95 0 50-9 70 0 65-29 260 4 100 9 50 8 20 17 17 25 9 130 4 30-1 69-13 80 12 70-9 60 3 57-12 63-5 14-5 31-25 15-30 1-40-32-95-4-85-11-35-70-90-22-40-47-100-20-30-24-25-21-15-20-8-90-7-40-14-25-17-29-29-55-72-25-25-35-17z"/><path fill="#00ffa0" d="M2090 170l1128 0 0 2260-5 0-1128 0 0-2260zM2211 440l-20 15-12 25-14 70-9 100-9 195-16 205-8 50 5 50-1 45 8 55 8 20 17 16 25 9 135 6 94-13 90 11 65-8 65 2 70-10 45-2 49-16 42-30 21-35 5-40-58-195-18-35-40-50-10-20-39-135-20-45-40-45-57-40-60-21-95-14-40-11-29-19-55-58-25-20-35-14z"/><path fill="#00ff8c" d="M2090 170l1128 0 0 2151-155-11-214-17-75 2-105 11-150 31-164 27-40 15-70 41-40 10-30-3-30-13-20-19-20-33-20-64 0-2128zM2211 415l-21 11-19 29-6 20-9 75-18 330-11 130 0 40-9 50 7 50-3 35 7 65 11 29 15 13 25 7 140 7 94-12 85 12 80-9 70 1 110-8 46-10 49-10 45 0 20-11 9-14 6-20 2-80-6-30-11-30-115-225-8-30-10-95-13-35-20-35-20-25-28-25-76-56-45-26-60-22-159-34-60-41-35-16-30-7z"/><path fill="#00ff80" d="M2090 170l1128 0 0 1863-15 1-7 16 6 15 16 11 0 39-15 5-55-5-65 12-60 11-104 8-55 8-165 49-98 17-77 22-55 10-75 3-124-6-25 6-50 21-25 4-30-12-25-32-9-26-6-44-7-186 3-580-4-50-7-17 0-1163zM2206 395l-26 15-15 25-10 35-7 75-15 335-5 90-6 40 2 40-11 50 8 50-4 35 5 35 1 40 12 29 15 9 25 6 140 8 94-12 95 12 80-9 75 2 180-12 75 2 47-10 34-20 8-15 0-35 20-23 55-28 30-27 27-42 4-20-1-15-44-90-7-30-6-55-23-26-35-17-35-1-25 10-34 36-15 2-13-9-2-21 19-54 6-45-4-40-17-30-112-90-87-48-60-42-45-22-49-18-81-19-65-23-54-6-90-27-30-3zM3049 1255l-3 5 2 7 5 2 9-4 1-10-5-3z"/><path fill="#00ff66" d="M2090 170l1128 0 0 835-65-42-25-28-10-22-15-55-63-103-27-80-13-25-37-32-56-38-58-31-105-35-66-34-54-22-205-55-64-8-75-17-40-5-40 4-15 6-15 13-12 19-11 45-10 130-12 235 2 55-6 45 1 45-6 40 3 40-12 50 10 50-6 35 5 35-4 60 3 15 15 10 110 8 85 4 89-11 90 13 85-11 80 4 110-4 140 12 54 18 40 32 28 45 12 50 3 60-7 70-32 150-21 65-24 50-57 80-37 65-44 47-102 63-66 35-47 17-95 22-90 10-174 0-75 12-30-7-20-19-10-20-10-32-10-88-4-170 0-245 6-295-3-20-4-6-15-6 0-1133z"/><path fill="#55ff55" d="M2090 170l1128 0 0 785-50-23-15-12-15-20-8-20-21-85-45-115-16-31-25-31-75-69-71-44-38-16-85-14-130-50-170-38-159-28-45-4-40 1-25 7-20 14-12 18-7 20-10 65-14 225 1 65-6 55 3 55-7 45 3 45-7 40 3 40-12 50 9 55-6 30-3 57-7 23-8 8 0-1103zM2379 1315l40-3 85 14 90-13 75 7 85-3 45 4 95 18 16 6 30 25 20 40 10 60 0 90-22 125-9 85-13 45-20 35-48 55-64 85-30 27-125 92-50 23-80 17-304 22-25-2-20-9-16-15-14-25-16-85-5-130 1-400 13-165 12-17 25-6 45-1 110 7z"/><path fill="#80ff33" d="M2090 170l1128 0 0 752-40-19-22-23-5-15-6-70-9-35-44-105-26-40-86-85-51-39-65-35-55-9-60-6-100-37-65-12-90-23-95-12-94-18-45-3-50 2-30 6-20 13-19 33-11 60-16 255 2 65-7 55 1 55-6 45-2 115-10 50 0 80-7 35 0-1035zM2379 1320l40-2 85 15 90-14 85 10 90-2 46 13 64 27 19 18 14 30 7 40 3 100-7 45-18 80-9 85-8 35-23 35-88 102-35 31-78 57-52 50-40 21-55 14-219 24-75 4-30-4-25-14-15-22-15-43-6-25-7-110 1-400 3-80 12-90 7-12 10-8 30-8 30-1 105 7z"/><path fill="#a0ff10" d="M2090 170l1128 0 0 714-14-9-11-15-6-20-2-60-7-25-73-150-21-25-83-80-38-30-39-25-35-17-30-10-35-6-75-2-85-31-65-9-65-20-50-10-204-25-95 8-30 10-11 12-9 21-13 69-17 270 1 65-7 60-10 190-4 22 0-872zM2384 1324l35 0 85 16 95-16 85 14 75-2 38 14 45 30 22 25 13 30 8 70-3 65-46 185-13 35-30 45-44 50-110 90-63 65-32 19-45 12-194 31-75 5-35-5-23-12-17-21-18-39-11-110-1-400 3-75 12-85 15-21 35-12 125 7z"/><path fill="#bbff00" d="M2090 170l1128 0 0 551-39-66-28-85-20-35-113-93-30-18-40-15-39-18-35-10-65-10-60-4-80-21-165-35-105-7-104-14-125 13-20 6-13 11-9 15-15 85-17 285 0 65-11 100 0-700zM2384 1330l30-1 90 19 30-3 65-15 85 19 70-1 26 12 29 25 27 40 12 35 5 65-9 60-18 50-73 160-52 60-99 80-73 70-40 18-85 27-99 20-55 6-35-3-30-12-25-26-10-28-15-87-2-395 3-80 13-80 16-22 30-11 120 8z"/><path fill="#d0ff00" d="M2090 170l1128 0 0 243-8-8 5-25-7-9-45-5-115-34-50-6-139 4-50-6-80-11-180-36-60-6-85-2-79-11-50 0-70 13-45 0-15 6-22 23-12 35-10 85-16 343 0-593zM2389 1335l25 0 65 18 30 3 30-3 45-14 20-2 80 24 65 6 21 13 19 23 18 37 10 35 0 65-16 55-27 47-57 68-48 85-25 29-30 26-114 70-21 18-47 42-49 30-73 25-60 8-40-8-31-20-16-30-16-60-6-425 5-70 11-60 13-20 30-13 115 9z"/><path fill="#e6ff00" d="M2090 170l1128 0 0 71-55-10-55-2-254 21-85-3-195-23-319-21-30-4-55-18-30 2-15 12-7 15-17 85-11 120-5 130 0-375zM2200 1344l115 9 89-13 75 22 35 4 25-3 50-16 15-2 130 50 20 16 17 34 10 45-3 50-14 40-24 35-74 65-76 95-31 30-35 24-87 46-33 30-58 65-38 25-33 11-35 2-31-8-24-20-18-35-7-35-11-420 5-65 9-45 15-25z"/><path fill="#f8ff00" d="M2384 1349l30 1 65 21 30 6 35-3 50-16 30 7 47 30 41 40 15 35 6 50-10 45-14 20-20 19-185 134-95 50-20 19-14 23-56 95-16 20-18 14-26 11-29 1-24-11-16-18-10-22-3-20-7-150-8-75-5-185 10-95 8-20 15-17 25-7 105 8z"/><path fill="#fff000" d="M2374 1360l35-2 70 25 35 7 35 0 50-11 20 6 29 25 18 30 9 35 2 45-4 20-10 20-34 35-120 63-140 53-24 24-15 36-24 84-15 30-15 20-16 13-20 6-20-6-11-13-9-30-13-125-14-70-8-115 5-130 10-48 10-15 15-10 20-2 90 7z"/><path fill="#ffdf00" d="M2230 1370l85 5 89-7 95 36 90 20 21 16 9 25 0 35-10 30-14 20-31 24-57 31-98 38-79 23-29 14-12 20-29 91-15 14-10-6-45-115-15-119 0-90 9-70 16-26 15-8z"/><path fill="#ffcf00" d="M2369 1380l25-1 25 6 90 50 19 15 10 15 5 15-2 20-9 20-11 15-52 40-63 30-91 28-30 14-45 31-15-2-10-11-28-95-1-90 7-60 10-25 22-13 95 2z"/><path fill="#ffbf00" d="M2235 1395l159-1 30 12 37 29 11 15 8 20-1 20-5 15-28 35-47 30-39 17-105 31-15 0-15-9-15-23-7-21-3-95 10-55 10-13z"/><path fill="#ffaf00" d="M2250 1409l35-3 84 3 25 6 22 15 15 25-1 30-22 35-34 27-29 14-35 8-55 3-20-9-10-17-5-21-1-75 11-30z"/><path fill="#ff9f00" d="M2270 1424l30-2 38 3 27 9 13 11 5 20-8 30-14 20-20 15-26 9-30 1-20-6-15-14-8-25 1-45 7-15z"/><path fill="#ff8f00" d="M2285 1449l15-4 15 2 21 13 3 10-2 15-17 19-25 3-19-12-6-25 5-12z"/></g><path fill="none" stroke="#000" stroke-linecap="round" stroke-width="1.35" stroke-opacity="0.85" d="M214.2 18.3l-0.5 0.2M220.5 18.5l-0.5-0.2M226.9 18.5l-0.7-0.1M233.2 18.4l-0.8-0.1M239.5 18.4l-0.9-0.1M245.8 18.4l-0.9-0.0M252.0 18.4l-0.8-0.0M258.3 18.4l-0.7 0.0M264.5 18.4l-0.6 0.0M270.7 18.4l-0.5-0.0M276.9 18.4l-0.5-0.1M283.2 18.4l-0.5-0.0M289.5 18.4l-0.5 0.0M295.8 18.4l-0.5 0.1M302.0 18.4l-0.5 0.1M308.3 18.4l-0.5 0.0M314.6 18.4l-0.5-0.0M320.8 18.4l-0.5-0.1M214.3 24.3l-0.7 0.6M220.7 24.7l-0.9-0.0M227.2 24.6l-1.3 0.1M233.5 24.7l-1.4-0.1M239.6 24.7l-1.1-0.1M245.9 24.7l-1.2-0.1M252.2 24.7l-1.2-0.1M258.4 24.7l-1.0-0.1M264.6 24.7l-0.9-0.1M270.8 24.7l-0.7-0.1M277.0 24.7l-0.7-0.1M283.3 24.6l-0.6 0.0M289.6 24.6l-0.6 0.1M295.8 24.6l-0.6 0.0M302.1 24.6l-0.6 0.1M308.3 24.6l-0.6 0.0M314.6 24.7l-0.6-0.0M320.9 24.7l-0.7-0.1M214.9 30.1l-1.9 1.7M221.8 30.8l-3.1 0.3M227.9 30.8l-2.7 0.1M234.0 31.1l-2.4-0.3M240.3 31.1l-2.4-0.3M246.3 30.9l-2.0-0.1M252.5 31.0l-1.7-0.3M258.6 31.0l-1.5-0.3M264.8 31.1l-1.3-0.3M271.0 31.0l-1.2-0.2M277.2 31.0l-1.0-0.1M283.4 31.0l-0.9-0.1M289.6 30.9l-0.8 0.1M295.9 30.9l-0.8 0.0M302.1 30.9l-0.7-0.0M308.3 30.9l-0.6-0.1M314.5 31.0l-0.4-0.1M320.6 31.0l0.1-0.2M214.8 35.2l-1.5 4.0M221.9 36.7l-3.3 0.8M228.1 37.4l-3.2-0.4M234.2 37.5l-2.7-0.6M240.5 37.4l-2.9-0.6M246.6 37.3l-2.5-0.4M252.7 37.4l-2.2-0.6M259.0 37.5l-2.1-0.7M265.2 37.3l-2.1-0.3M271.3 37.4l-1.7-0.6M277.4 37.2l-1.3-0.1M283.7 37.3l-1.5-0.2M289.8 37.3l-1.2-0.3M295.9 37.2l-0.7-0.1M302.0 37.3l-0.5-0.2M308.3 37.2l-0.4-0.2M314.5 37.2l-0.4-0.1M320.8 37.2l-0.4-0.1M214.5 40.7l-1.0 5.4M221.4 42.7l-2.3 1.4M227.7 43.8l-2.4-0.9M233.7 43.9l-1.7-0.9M239.7 43.5l-1.3-0.1M246.2 43.7l-1.8-0.6M252.6 43.6l-2.1-0.5M259.0 43.6l-2.2-0.5M265.2 43.7l-2.0-0.7M271.5 43.8l-2.1-0.9M277.7 43.5l-2.0-0.2M283.9 43.5l-1.8-0.2M290.0 43.8l-1.6-0.7M296.1 43.7l-1.2-0.6M302.1 43.6l-0.6-0.4M308.2 43.5l-0.4-0.2M314.5 43.5l-0.4-0.2M320.9 43.5l-0.6-0.3M214.2 46.9l-0.4 5.5M220.9 48.7l-1.3 2.0M227.3 50.2l-1.5-1.1M233.5 50.4l-1.3-1.5M239.6 49.8l-0.9-0.3M245.9 49.8l-1.0-0.2M252.2 49.8l-1.2-0.3M258.5 49.9l-1.3-0.5M264.8 50.0l-1.3-0.7M271.1 50.0l-1.3-0.7M277.4 49.8l-1.4-0.4M283.6 49.8l-1.3-0.3M289.9 50.0l-1.4-0.8M296.2 50.2l-1.4-1.0M302.3 50.1l-1.0-0.9M308.3 49.9l-0.5-0.4M314.5 49.7l-0.3-0.2M320.6 49.8l-0.0-0.3M214.2 53.2l-0.4 5.5M220.7 54.7l-0.8 2.4M227.1 56.4l-1.1-1.0M233.4 56.8l-1.2-1.7M239.6 56.1l-1.0-0.5M245.8 56.0l-0.9-0.1M252.1 56.0l-1.0-0.2M258.4 56.1l-1.0-0.4M264.7 56.3l-1.0-0.7M271.0 56.2l-1.1-0.6M277.2 56.1l-1.0-0.4M283.4 56.1l-0.9-0.4M289.7 56.2l-1.0-0.5M296.1 56.4l-1.2-1.0M302.4 56.6l-1.3-1.4M308.5 56.3l-0.9-0.8M314.5 56.2l-0.3-0.6M320.5 56.1l0.1-0.5M214.1 59.4l-0.3 5.5M220.7 60.9l-0.8 2.6M226.9 62.6l-0.6-0.9M233.2 62.9l-0.7-1.6M239.5 62.5l-0.8-0.6M245.7 62.2l-0.8-0.1M252.0 62.2l-0.8-0.1M258.3 62.4l-0.9-0.5M264.6 62.5l-0.9-0.7M270.9 62.5l-0.9-0.7M277.0 62.4l-0.7-0.6M283.2 62.4l-0.5-0.4M289.5 62.3l-0.6-0.3M295.9 62.5l-0.9-0.6M302.4 62.8l-1.2-1.3M308.6 62.9l-1.1-1.4M314.5 62.7l-0.5-1.2M320.6 62.5l-0.1-0.7M214.1 65.7l-0.3 5.5M220.3 67.1l-0.1 2.6M226.6 68.9l-0.1-1.0M232.9 69.1l-0.1-1.4M239.3 68.7l-0.4-0.5M245.6 68.4l-0.5-0.1M251.9 68.4l-0.5-0.1M258.2 68.6l-0.5-0.5M264.4 68.8l-0.5-0.7M270.6 68.8l-0.4-0.8M276.9 68.7l-0.4-0.7M283.2 68.6l-0.4-0.5M289.4 68.5l-0.3-0.3M295.6 68.6l-0.3-0.4M302.0 68.9l-0.4-1.1M308.4 69.2l-0.6-1.6M314.7 69.1l-0.7-1.5M320.9 68.9l-0.6-0.9M214.1 71.9l-0.2 5.5M220.6 73.6l-0.7 2.1M226.5 75.4l0.1-1.4M232.7 75.1l0.1-0.9M239.2 74.8l-0.3-0.3M245.6 74.6l-0.5 0.0M251.9 74.7l-0.5-0.1M258.1 74.9l-0.5-0.5M264.3 75.1l-0.4-0.8M270.6 75.1l-0.2-0.9M276.8 75.0l-0.1-0.7M283.0 74.9l-0.1-0.5M289.3 74.8l-0.0-0.4M295.5 74.9l-0.0-0.4M301.9 75.0l-0.3-0.7M308.3 75.3l-0.6-1.3M314.6 75.4l-0.6-1.5M320.8 75.2l-0.5-1.1M214.1 78.2l-0.3 5.5M220.4 79.9l-0.3 2.1M226.8 81.7l-0.5-1.5M233.1 81.3l-0.6-0.9M239.4 80.9l-0.6-0.1M245.7 80.8l-0.7 0.1M252.0 81.0l-0.7-0.2M258.2 81.2l-0.6-0.6M264.4 81.4l-0.5-0.9M270.6 81.4l-0.3-1.1M276.8 81.3l-0.1-0.8M282.9 81.2l0.1-0.6M289.2 81.1l0.1-0.4M295.6 81.0l-0.1-0.2M302.1 81.1l-0.6-0.3M308.5 81.6l-0.8-1.4M314.4 81.8l-0.2-1.9M320.6 81.4l-0.0-1.0M214.1 84.4l-0.3 5.5M220.8 86.3l-1.0 1.6M226.8 87.9l-0.6-1.6M233.3 87.4l-0.9-0.6M239.7 87.1l-1.2 0.0M245.9 87.1l-1.1 0.1M252.1 87.3l-0.9-0.3M258.3 87.5l-0.8-0.6M264.6 87.6l-0.9-1.0M270.9 87.8l-0.8-1.3M277.0 87.6l-0.6-1.0M283.1 87.6l-0.3-0.8M289.3 87.3l-0.1-0.4M295.6 87.0l-0.2 0.2M302.0 87.1l-0.4 0.1M308.5 87.7l-0.8-1.2M314.6 88.4l-0.5-2.4M321.0 87.5l-0.8-0.8M214.3 90.7l-0.5 5.5M221.2 92.9l-1.9 1.1M227.0 94.0l-1.0-1.1M233.8 93.5l-1.9-0.2M240.0 93.4l-1.9-0.1M246.1 93.5l-1.5-0.2M252.2 93.7l-1.1-0.6M258.3 93.7l-0.9-0.5M264.7 93.8l-1.1-0.9M271.0 94.0l-1.1-1.3M277.2 94.1l-1.1-1.4M283.3 94.0l-0.6-1.2M289.4 93.7l-0.4-0.5M295.6 93.3l-0.2 0.2M301.8 93.4l-0.0 0.1M308.1 93.9l-0.1-1.0M315.0 94.2l-1.4-1.5M321.6 93.8l-1.9-0.8M214.4 96.9l-0.8 5.4M222.1 99.4l-3.6 0.5M228.6 100.0l-4.2-0.8M234.5 99.8l-3.4-0.3M240.4 100.0l-2.6-0.6M246.3 100.0l-1.8-0.8M252.3 100.1l-1.4-1.0M258.4 100.0l-1.0-0.7M264.3 100.2l-0.3-1.1M270.4 100.3l-0.0-1.4M276.7 100.4l-0.0-1.4M283.2 100.3l-0.4-1.3M289.5 100.0l-0.4-0.7M295.6 99.7l-0.2-0.1M301.8 99.7l0.0-0.0M308.1 99.9l-0.1-0.4M314.7 100.0l-0.7-0.6M321.0 100.0l-0.9-0.7M214.3 103.2l-0.7 5.5M222.8 105.7l-5.0 0.4M229.1 106.6l-5.2-1.5M234.2 106.8l-2.9-1.7M239.9 106.6l-1.6-1.5M245.8 106.6l-1.0-1.4M251.9 106.5l-0.6-1.2M258.1 106.5l-0.5-1.3M264.3 106.7l-0.2-1.5M270.5 106.7l-0.1-1.6M276.8 106.4l-0.1-1.1M283.1 106.4l-0.3-1.0M289.4 106.3l-0.4-0.7M295.6 106.1l-0.2-0.3M301.7 106.0l0.1-0.2M308.0 106.0l0.1-0.2M314.4 106.1l-0.1-0.3M320.7 106.2l-0.2-0.5M214.1 109.4l-0.3 5.5M222.0 110.8l-3.5 2.7M227.7 114.0l-2.4-3.7M233.1 114.0l-0.6-3.7M239.0 113.2l0.2-2.2M245.2 113.0l0.2-1.7M251.6 112.7l0.1-1.1M258.0 112.8l-0.2-1.2M264.4 112.9l-0.4-1.6M270.6 112.9l-0.4-1.5M276.9 112.7l-0.4-1.0M283.1 112.7l-0.4-1.0M289.4 112.6l-0.3-0.8M295.5 112.5l-0.1-0.6M301.7 112.3l0.2-0.3M308.0 112.2l0.2-0.1M314.3 112.3l0.1-0.3M320.5 112.4l0.1-0.4M213.6 115.7l0.8 5.4M217.9 117.2l4.7 2.4M224.1 120.4l4.9-4.0M231.3 120.2l3.0-3.6M238.1 119.3l2.0-1.9M244.7 118.9l1.3-1.0M251.6 118.8l0.1-0.8M257.8 118.8l0.1-0.8M264.4 119.2l-0.5-1.5M270.5 119.1l-0.2-1.5M276.9 119.0l-0.4-1.2M282.9 119.0l0.1-1.3M289.2 118.8l0.0-0.8M295.5 118.9l0.1-1.0M301.6 118.5l0.3-0.3M308.0 118.4l0.1-0.1M314.3 118.5l0.1-0.2M320.6 118.6l-0.0-0.3M213.2 122.0l1.6 5.3M217.6 124.1l5.4 1.0M223.4 125.3l6.3-1.3M230.1 125.1l5.4-0.9M236.4 125.7l5.4-2.1M243.0 124.3l4.6 0.7M250.0 125.1l3.3-0.9M256.2 124.5l3.3 0.2M262.9 125.7l2.5-2.1M269.3 125.1l2.2-1.0M275.9 125.5l1.7-1.6M282.2 125.2l1.6-1.2M288.9 124.9l0.7-0.4M295.3 125.1l0.4-1.0M301.8 124.7l-0.0-0.1M308.1 124.7l-0.0-0.1M314.3 124.8l0.0-0.2M320.6 124.8l0.0-0.3M211.7 130.7l4.6 0.4M217.5 130.8l5.5 0.2M223.3 130.7l6.4 0.3M229.1 131.0l7.5-0.3M234.8 131.5l8.5-1.1M240.6 129.9l9.6 2.1M246.9 131.3l9.5-0.7M252.5 131.4l10.7-1.0M259.2 130.7l9.9 0.5M266.9 131.1l7.2-0.5M273.4 130.9l6.7 0.0M281.1 130.8l3.8 0.3M287.7 130.8l3.0 0.2M294.8 130.8l1.5 0.1M301.5 130.8l0.6 0.2M307.9 130.9l0.4 0.0M314.3 131.0l0.1-0.2M320.6 131.0l0.0-0.2M213.4 139.8l1.2-5.4M217.9 138.6l4.7-2.8M223.3 137.1l6.4 0.2M229.1 137.1l7.5 0.1M236.1 136.9l6.0 0.5M242.4 136.0l5.8 2.3M248.8 137.2l5.6-0.0M256.3 137.7l3.2-1.1M262.4 136.1l3.6 2.0M268.9 136.9l3.2 0.5M275.6 136.4l2.2 1.5M282.0 136.4l2.0 1.5M288.6 136.6l1.2 1.1M295.1 136.6l0.8 1.0M301.5 136.9l0.5 0.6M307.9 137.0l0.3 0.3M314.3 137.1l0.1 0.0M320.6 137.2l0.0-0.1M213.6 146.1l0.7-5.5M219.5 146.0l1.6-5.3M224.3 144.6l4.6-2.5M230.5 142.2l4.7 2.5M238.1 142.0l2.1 2.9M244.6 142.4l1.5 1.9M250.9 142.9l1.5 0.9M257.4 143.2l0.9 0.5M263.9 142.8l0.6 1.2M270.0 142.8l0.8 1.1M276.4 142.7l0.6 1.4M282.6 142.5l0.8 1.8M289.1 142.6l0.4 1.6M295.4 142.8l0.2 1.1M301.7 143.1l0.2 0.7M308.0 143.2l0.1 0.4M314.3 143.3l0.1 0.1M320.6 143.4l0.0-0.0M214.0 152.4l0.1-5.5M220.5 152.4l-0.5-5.5M227.5 151.3l-1.9-3.4M233.9 147.9l-2.1 3.4M239.6 147.9l-1.0 3.5M245.6 148.8l-0.5 1.7M251.7 149.2l-0.2 1.0M257.9 149.3l-0.1 0.8M264.2 149.1l-0.1 1.0M270.3 149.1l0.2 1.1M276.7 149.0l0.1 1.3M282.9 148.7l0.1 1.9M289.2 148.7l0.1 1.8M295.5 149.1l0.1 1.2M301.8 149.3l0.0 0.7M308.0 149.5l0.0 0.4M314.3 149.6l0.0 0.2M320.6 149.7l0.0-0.0M214.1 158.6l-0.2-5.5M221.0 158.1l-1.5-4.4M228.7 156.4l-4.4-1.0M235.1 155.1l-4.5 1.7M240.3 154.9l-2.5 2.0M246.0 155.4l-1.4 1.1M252.1 155.5l-1.0 0.7M258.3 155.6l-0.8 0.6M264.5 155.4l-0.6 0.9M270.7 155.4l-0.5 1.0M276.9 155.2l-0.5 1.4M283.1 155.0l-0.3 1.7M289.3 155.0l-0.2 1.7M295.6 155.3l-0.1 1.2M301.8 155.5l-0.1 0.7M308.1 155.7l-0.0 0.4M314.3 155.8l-0.0 0.1M320.6 155.9l-0.0-0.0M214.1 164.9l-0.1-5.5M220.9 163.6l-1.2-2.9M227.7 162.0l-2.3 0.4M234.1 161.8l-2.7 0.8M240.1 161.8l-1.9 0.7M246.1 161.9l-1.4 0.6M252.2 161.9l-1.2 0.6M258.5 161.9l-1.2 0.6M264.7 161.7l-1.2 0.8M271.0 161.7l-1.1 0.9M277.1 161.6l-0.9 1.2M283.3 161.4l-0.6 1.5M289.4 161.4l-0.4 1.6M295.6 161.6l-0.2 1.1M301.8 161.8l-0.1 0.6M308.1 162.0l-0.1 0.3M314.3 162.1l-0.0 0.1M320.6 162.2l-0.0-0.0M214.1 171.1l-0.2-5.5M220.7 169.4l-0.8-1.9M227.0 167.9l-0.9 1.1M233.3 168.2l-1.1 0.5M239.6 168.2l-1.1 0.4M245.8 168.2l-1.0 0.3M252.1 168.2l-0.9 0.5M258.3 168.1l-0.8 0.6M264.6 168.0l-0.8 0.8M270.8 168.0l-0.8 0.8M277.0 167.9l-0.6 0.9M283.2 167.8l-0.4 1.3M289.4 167.7l-0.2 1.4M295.6 167.9l-0.1 1.0M301.8 168.1l-0.1 0.6M308.1 168.3l-0.1 0.3M314.3 168.4l-0.0 0.1M320.6 168.4l-0.0-0.0M214.0 177.4l-0.0-5.5M220.5 175.7l-0.5-2.1M226.7 174.3l-0.3 0.7M233.0 174.2l-0.3 0.9M239.4 174.4l-0.6 0.4M245.6 174.5l-0.6 0.3M251.9 174.4l-0.5 0.4M258.1 174.4l-0.5 0.6M264.4 174.3l-0.5 0.7M270.6 174.3l-0.4 0.8M276.9 174.2l-0.4 0.9M283.1 174.1l-0.3 1.1M289.3 174.0l-0.1 1.2M295.6 174.1l-0.1 1.0M301.9 174.4l-0.1 0.6M308.1 174.5l-0.1 0.2M314.3 174.6l-0.0 0.0M320.6 174.7l-0.0-0.0M214.1 183.6l-0.2-5.5M220.4 181.8l-0.3-1.9M226.7 180.6l-0.3 0.6M233.0 180.3l-0.3 1.2M239.3 180.6l-0.5 0.6M245.7 180.8l-0.6 0.3M252.0 180.7l-0.7 0.4M258.2 180.6l-0.6 0.5M264.5 180.6l-0.6 0.7M270.7 180.5l-0.6 0.7M277.0 180.4l-0.6 0.9M283.3 180.4l-0.6 1.0M289.5 180.3l-0.6 1.2M295.7 180.4l-0.4 1.0M301.9 180.7l-0.2 0.5M308.1 180.8l-0.1 0.1M314.3 180.9l-0.0-0.0M320.6 180.9l0.0-0.1M213.9 189.9l0.1-5.5M220.4 188.0l-0.3-1.8M226.8 186.8l-0.5 0.6M233.1 186.6l-0.6 1.2M239.4 186.8l-0.6 0.7M245.7 186.9l-0.7 0.5M252.0 186.9l-0.8 0.4M258.3 186.9l-0.8 0.5M264.6 186.8l-0.8 0.6M270.8 186.8l-0.8 0.7M277.1 186.7l-0.8 0.9M283.4 186.6l-0.9 1.0M289.7 186.7l-0.8 0.9M295.8 186.8l-0.5 0.7M301.9 187.0l-0.2 0.3M308.1 187.1l-0.1 0.0M314.3 187.2l-0.0-0.1M320.6 187.2l0.0-0.1M214.4 196.1l-0.9-5.4M220.8 194.1l-1.1-1.3M227.1 193.1l-1.1 0.6M233.2 192.9l-0.8 1.1M239.4 193.1l-0.6 0.7M245.6 193.1l-0.6 0.6M251.9 193.2l-0.6 0.4M258.2 193.1l-0.7 0.6M264.6 193.0l-0.9 0.7M270.9 193.0l-0.9 0.7M277.1 193.0l-0.9 0.9M283.3 192.9l-0.7 1.0M289.5 193.1l-0.4 0.7M295.6 193.2l-0.2 0.4M301.8 193.3l-0.0 0.2M308.1 193.4l-0.1 0.0M314.4 193.4l-0.1-0.1M320.7 193.4l-0.3-0.1M214.3 201.9l-0.5-4.6M221.1 200.2l-1.7-1.1M227.4 199.5l-1.6 0.3M233.4 199.3l-1.2 0.7M239.5 199.4l-0.9 0.5M245.8 199.4l-0.8 0.5M252.0 199.4l-0.7 0.4M258.3 199.2l-0.7 0.9M264.6 199.2l-1.0 0.9M270.9 199.3l-0.9 0.7M277.1 199.3l-0.8 0.7M283.2 199.3l-0.5 0.7M289.4 199.4l-0.3 0.4M295.5 199.5l-0.1 0.2M301.8 199.6l0.0 0.2M308.1 199.6l-0.0 0.1M314.4 199.6l-0.2 0.1M320.7 199.6l-0.3 0.0M214.7 207.7l-1.4-3.5M221.1 206.2l-1.7-0.7M227.5 205.8l-1.9 0.1M233.7 205.7l-1.8 0.4M239.9 205.7l-1.7 0.4M246.1 205.7l-1.5 0.3M252.3 205.7l-1.3 0.3M258.5 205.5l-1.2 0.8M264.6 205.5l-0.9 0.9M270.9 205.6l-0.8 0.6M277.1 205.6l-0.8 0.5M283.3 205.7l-0.6 0.4M289.4 205.8l-0.4 0.2M295.6 205.9l-0.3 0.1M301.9 205.8l-0.2 0.1M308.1 205.8l-0.1 0.1M314.4 205.8l-0.1 0.1M320.6 205.9l0.0 0.0M214.6 213.3l-1.2-2.3M221.2 212.3l-1.9-0.3M227.6 212.1l-2.1 0.2M233.8 212.0l-2.0 0.3M240.0 212.0l-1.8 0.2M246.2 212.1l-1.7 0.1M252.4 212.0l-1.6 0.3M258.6 211.9l-1.4 0.5M264.7 211.8l-1.1 0.7M270.9 211.9l-0.9 0.5M277.1 212.0l-0.7 0.4M283.3 212.0l-0.6 0.2M289.5 212.1l-0.5 0.1M295.7 212.1l-0.4 0.0M301.9 212.1l-0.3 0.1M308.2 212.1l-0.3 0.1M314.4 212.1l-0.2 0.0M320.7 212.1l-0.1 0.0M214.5 219.1l-1.1-1.3M221.1 218.4l-1.7 0.1M227.5 218.3l-1.9 0.1M233.6 218.4l-1.7 0.0M239.8 218.4l-1.5 0.0M246.1 218.4l-1.4 0.1M252.3 218.3l-1.4 0.2M258.6 218.2l-1.4 0.3M264.8 218.3l-1.2 0.3M270.9 218.3l-0.9 0.3M277.0 218.3l-0.7 0.2M283.2 218.3l-0.5 0.1M289.5 218.4l-0.5 0.0M295.7 218.4l-0.4-0.0M302.0 218.4l-0.4 0.0M308.2 218.4l-0.3 0.0M314.5 218.4l-0.3 0.0M320.8 218.4l-0.4 0.0M214.4 224.9l-0.7-0.6M220.7 224.5l-0.9 0.3M227.0 224.6l-0.8 0.1M233.3 224.7l-1.0-0.1M239.6 224.7l-1.0-0.0M245.8 224.6l-1.0 0.1M252.1 224.5l-0.9 0.2M258.3 224.5l-0.8 0.3M264.5 224.6l-0.7 0.1M270.7 224.6l-0.6 0.1M277.0 224.6l-0.5 0.1M283.2 224.6l-0.5 0.0M289.4 224.7l-0.4-0.0M295.7 224.7l-0.4-0.0M302.0 224.7l-0.4-0.0M308.2 224.7l-0.4-0.0M314.5 224.6l-0.3 0.0M320.7 224.7l-0.3-0.0M214.2 231.1l-0.5-0.4M220.5 230.8l-0.4 0.2M226.7 230.8l-0.4 0.2M233.1 230.9l-0.5 0.0M239.4 230.9l-0.6 0.0M245.7 230.9l-0.6 0.1M251.9 230.8l-0.6 0.1M258.1 230.8l-0.5 0.1M264.4 230.9l-0.4 0.1M270.6 230.9l-0.4 0.0M276.9 230.9l-0.4 0.0M283.2 230.9l-0.4-0.0M289.4 230.9l-0.4-0.0M295.7 230.9l-0.4-0.0M302.0 230.9l-0.4-0.0M308.2 230.9l-0.3-0.0M314.5 230.9l-0.3-0.0M320.7 230.9l-0.3-0.0M214.2 237.3l-0.4-0.3M220.4 237.1l-0.3 0.1M226.7 237.1l-0.3 0.2M233.0 237.1l-0.3 0.1M239.2 237.1l-0.3 0.1M245.5 237.1l-0.4 0.1M251.8 237.1l-0.3 0.1M258.0 237.1l-0.3 0.1M264.3 237.1l-0.3 0.1M270.6 237.1l-0.3 0.1M276.9 237.1l-0.3 0.0M283.1 237.2l-0.3-0.0M289.4 237.2l-0.3-0.0M295.7 237.2l-0.3-0.0M301.9 237.2l-0.3-0.0M308.2 237.2l-0.3-0.0M314.5 237.2l-0.3-0.0M320.7 237.2l-0.3-0.0"/></g></g><rect x="208.50" y="17.00" width="113.30" height="226.00" fill="none" stroke="#262626" stroke-opacity="0.35" stroke-width="0.6"/><g clip-path="url(#cpc)"><g><rect x="376.70" y="17.00" width="113.10" height="226.00" fill="#00009f"/><g transform="scale(.1)"><path fill="#0000af" d="M3772 170l1126 0 0 2260-5 0-1126 0 0-2260zM3893 945l-11 13-3 17 1 75 12 46 7 19 8 7 35-21 10-6-20-25-4-20 4-16 21-34-36-50-10-6zM3984 995l-6 5-1 10 15 19 7-9 2-20-4-7zM3977 1080l-17 10-1 5 13 4 11-9 0-10z"/><path fill="#0000bf" d="M3772 170l1126 0 0 2260-5 0-1126 0 0-2260zM3892 910l-20 28-7 27 0 85 17 110 11 15 19 4 13-9 17-29 10-4 25 0 20-9 11-18 31-125 0-25-11-15-16-9-50-2-50-27-10-1z"/><path fill="#0000cf" d="M3772 170l1126 0 0 2260-5 0-1126 0 0-2260zM3893 860l-21 44-16 56 0 90 11 111 15 28 15 8 15 2 27-9 23-25 15-9 26-16 14-23 40-142 0-20-15-25-25-19-20-8-49-8-14-10-27-28-10-1z"/><path fill="#0000df" d="M3772 170l1126 0 0 2260-5 0-1126 0 0-2260zM3897 790l-15 6-9 19-7 60-16 80 0 95 7 110 15 36 15 10 20 5 20-2 20-9 35-34 28-21 15-25 22-85 22-60 0-25-12-23-20-23-40-32-40-20-50-57z"/><path fill="#0000ef" d="M3772 170l1126 0 0 2260-5 0-1126 0 0-2260zM3891 755l-19 23-12 27-4 60-11 85-1 100 8 120 6 20 11 15 18 12 20 4 20-2 21-9 39-38 27-22 16-25 24-90 24-60 2-25-18-34-60-74-15-12-40-20-40-56-10-2z"/><path fill="#0000ff" d="M3772 170l1126 0 0 2260-5 0-1126 0 0-2260zM3896 695l-9 11-37 99-12 160 6 200 8 28 10 16 20 15 20 6 20-1 25-10 20-15 20-22 35-34 14-23 23-85 27-65 2-25-16-35-60-88-15-14-35-16-10-9-35-68-15-23z"/><path fill="#0010ff" d="M3772 170l1126 0 0 2260-5 0-1126 0 0-2260zM3902 440l-16 15-3 25 4 11 10 8 15-10 20-17 4-17-14-15zM3898 535l-26 60 4 75-11 70-22 65-10 160 4 195 9 35 11 18 20 17 20 7 20 1 25-8 25-18 21-22 39-40 13-20 22-80 30-70 4-25-14-38-60-97-15-16-41-24-21-30-16-75 11-80-23-52-10-10z"/><path fill="#0020ff" d="M3772 170l1126 0 0 2260-5 0-1126 0 0-2260zM3895 425l-18 15-8 20 0 30 6 45-15 65 5 70-9 70-19 65-8 160 3 195 8 35 15 25 22 18 25 7 25-2 25-12 25-21 24-30 31-30 13-20 22-80 32-75 3-25-13-35-59-100-18-18-40-27-20-30-12-75 15-70-20-75 2-15 15-35 1-20-11-16-15-10-15-3z"/><path fill="#0030ff" d="M3772 170l1126 0 0 2260-5 0-1126 0 0-2260zM3901 410l-14 6-15 13-10 16-3 15 6 75-12 65 5 65-8 70-17 65-6 85 0 275 8 35 12 25 20 20 30 12 25-1 25-10 25-19 25-30 41-42 10-15 25-85 32-75 3-25-12-35-61-105-13-15-45-33-18-27-10-70 14-70-13-70 13-75-10-20-16-15-15-6z"/><path fill="#0040ff" d="M3772 170l1126 0 0 2260-5 0-1126 0 0-2260zM3895 400l-13 6-15 15-16 34 6 80-9 65 3 70-7 65-16 65-6 80 0 280 9 40 13 25 23 23 25 10 30 0 25-10 25-19 24-29 15-20 32-30 9-15 24-80 34-80 3-30-11-30-60-107-15-16-45-36-17-26-9-60 12-70-9-70 12-80-9-21-22-24-23-8z"/><path fill="#0050ff" d="M3772 170l1126 0 0 2260-5 0-1126 0 0-2260zM3891 390l-14 8-15 16-17 36 6 85-8 65 2 75-5 55-15 65-8 85 1 280 9 42 14 28 21 22 30 14 30-1 25-10 30-25 25-33 45-47 9-15 26-80 32-75 4-35-12-35-59-105-15-17-46-38-20-35-4-45 11-75-6-70 12-65-3-20-19-30-20-17-25-7z"/><path fill="#0060ff" d="M3772 170l1126 0 0 2260-5 0-1126 0 0-2260zM3888 380l-26 21-15 26-8 23 6 80-7 70 2 80-5 45-14 65-9 90 1 280 10 45 14 30 25 25 25 11 30 2 25-9 30-22 26-32 18-25 32-30 12-20 25-75 33-80 5-20 0-20-11-30-59-105-16-19-47-41-13-18-8-22-1-40 10-65-4-80 12-65-5-20-23-35-16-15-25-8z"/><path fill="#0070ff" d="M3772 170l1126 0 0 2260-5 0-1126 0 0-2260zM3886 370l-14 8-15 17-15 30-8 25 5 75-5 75 0 90-16 95-10 95 2 285 9 45 15 30 23 24 30 14 30 2 25-9 30-22 27-34 16-25 33-30 14-21 27-79 34-80 5-40-11-31-58-104-17-21-48-44-20-35-1-35 9-70-2-85 12-60-4-20-26-42-20-18-30-8z"/><path fill="#0080ff" d="M3772 170l1126 0 0 2260-5 0-1126 0 0-2260zM3887 360l-20 10-10 11-20 41-7 28 4 70-5 80 1 95-16 85-10 100 2 290 10 45 14 30 27 27 30 13 30 1 30-11 30-25 25-34 15-24 35-32 14-20 26-75 35-85 6-40-12-35-59-104-65-66-17-30-2-25 8-80 0-90 12-55-4-20-27-47-17-18-33-12zM3949 1640l-17 4-15 11-10 15-5 20 4 15 11 13 15 6 15 0 20-9 15-11 11-14 4-15-4-15-11-10z"/><path fill="#008fff" d="M3772 170l1126 0 0 2260-5 0-1126 0 0-2260zM3892 350l-20 6-17 14-18 38-11 37 4 70-6 115 1 70-15 75-10 105 3 295 9 45 15 31 25 26 30 14 35 2 30-11 30-25 25-34 15-26 39-37 13-20 27-75 36-85 6-40-11-35-60-105-20-24-45-43-17-33 7-190 11-55-5-25-26-47-15-18-30-14zM4344 1440l-5 10 1 10 8 7 7-2 6-10-1-10-7-7zM3930 1625l-21 10-18 20-11 25 0 25 15 25 22 14 25 4 25-7 25-18 19-23 7-20-2-20-9-15-25-14-30-8z"/><path fill="#009fff" d="M3772 170l1126 0 0 2260-5 0-1126 0 0-2260zM3878 345l-19 10-12 14-20 51-6 25 5 60-7 130 2 65-15 70-10 110 0 255 4 50 10 45 16 30 26 25 30 13 35 1 30-10 30-25 26-34 16-30 38-37 16-23 65-165 5-40-13-35-58-100-20-26-45-44-16-30-2-25 9-110 0-55 10-55-6-30-26-50-19-20-40-14zM4338 1425l-10 15-2 30 12 14 20 1 15-15 0-30-5-11-10-7zM3932 1610l-30 10-24 25-13 30-1 30 14 30 24 20 35 8 30-5 30-20 25-28 10-25 0-25-10-20-15-11-40-15z"/><path fill="#00afff" d="M3772 170l1126 0 0 2260-5 0-1126 0 0-2260zM3883 335l-23 10-16 15-22 60-6 25 5 60-7 135 3 60-15 65-9 110-1 250 4 65 10 45 16 30 25 25 35 15 35 1 30-10 35-30 22-31 19-35 37-35 16-25 67-165 5-40-15-40-59-100-60-65-17-30-3-25 10-115 0-55 10-50-8-35-24-52-20-20-40-15zM4341 1410l-14 9-8 11-9 25 0 15 7 15 10 10 16 6 15-1 15-8 10-12 6-15 0-15-7-20-9-13-15-8zM3911 1600l-29 17-24 33-9 35 6 35 17 28 25 18 45 9 35-8 32-22 25-30 11-35-3-30-20-24-30-14-45-13z"/><path fill="#00bfff" d="M3772 170l1126 0 0 2260-5 0-1126 0 0-2260zM3891 325l-30 10-22 20-27 85-1 25 6 35-6 55 1 45-4 40 4 60-14 60-9 110-1 245 4 80 10 45 15 30 25 26 30 14 35 4 35-8 30-22 28-34 24-45 38-38 15-22 72-175 5-35-17-44-60-99-60-67-14-25-3-25 3-75 7-40 0-55 9-55-5-25-21-55-13-20-23-15-35-11zM4338 1400l-16 10-18 25-9 20 0 15 9 20 18 17 21 6 20-2 18-11 13-15 9-20 1-15-12-25-19-20-15-7zM3920 1585l-18 3-15 7-18 15-16 20-14 40 1 45 18 35 29 23 50 11 35-4 37-20 29-30 16-35 1-40-10-20-25-20-58-23z"/><path fill="#00cfff" d="M3772 170l1126 0 0 2260-5 0-1126 0 0-2260zM3903 315l-36 8-29 22-13 25-19 65-1 30 7 35-7 50 2 50-5 40 5 60-14 55-8 105-1 250 3 85 7 40 14 35 24 29 30 17 40 6 35-7 30-18 29-32 33-60 38-40 14-20 45-115 28-60 6-35-10-30-36-65-42-62-53-58-12-25-2-25 4-65 7-40 0-60 8-50-4-30-19-60-14-21-20-15-35-12zM4339 1390l-22 14-20 25-11 21-2 20 8 24 15 16 25 13 26 1 20-10 21-19 14-24 2-21-12-25-23-25-22-11zM3894 1575l-17 9-20 18-24 38-8 50 10 45 22 30 35 20 60 7 40-9 35-23 30-40 11-40-2-20-6-20-25-25-48-23-60-19z"/><path fill="#00dfff" d="M3772 170l1126 0 0 2260-5 0-1126 0 0-2260zM3878 310l-30 15-19 20-11 25-19 70 0 25 7 35-8 55 2 45-5 50 4 50-11 55-6 100-2 255 5 110 12 45 20 33 25 19 35 11 40 0 35-12 30-26 25-34 25-50 35-36 17-25 45-115 32-65 4-30-9-30-36-65-44-65-50-55-13-25-2-35 13-100 0-55 6-45-4-35-19-70-19-25-26-14-45-10zM4345 1380l-23 10-25 26-17 29-5 30 7 23 15 17 30 17 26 3 25-10 25-21 15-24 6-25-9-25-22-29-25-17zM3891 1560l-19 10-23 20-16 20-10 20-7 30-2 30 2 25 8 25 23 31 35 20 70 8 50-9 35-23 30-42 11-45-8-40-21-25-37-20-85-34-20-4zM4274 2220l-22 10-22 20-12 20-4 20 7 20 16 16 25 10 25-3 25-11 22-17 14-20 3-20-8-25-18-15-28-8z"/><path fill="#00efff" d="M3772 170l1126 0 0 2260-5 0-1126 0 0-2260zM3879 300l-32 15-25 25-12 30-19 70 7 65-8 50-2 90 3 50-9 60-4 95-1 260 4 120 11 45 20 35 25 17 40 11 40-2 35-12 30-25 25-33 27-56 38-41 16-24 45-115 34-65 4-30-9-30-39-70-46-65-48-55-10-20-2-35 14-100 5-90-4-45-16-75-19-27-25-15-50-12zM4335 1375l-28 19-27 36-12 30-1 25 10 25 20 18 35 15 26 1 30-16 25-23 15-28 2-27-13-30-29-32-30-15zM3886 1545l-20 10-29 25-16 20-9 20-7 30-3 40 4 35 8 25 28 32 35 16 80 8 50-5 20-9 20-17 20-25 13-25 7-20 2-25-11-45-21-23-40-22-95-43-20-4zM4284 2180l-37 9-35 21-54 55-15 30 1 15 8 15 28 25 37 18 45 8 45-7 49-24 32-29 11-31-1-25-5-20-10-20-13-15-32-18z"/><path fill="#00ffff" d="M3772 170l1126 0 0 2260-5 0-1126 0 0-2260zM3896 285l-39 12-40 33-12 25-22 80 3 70-13 340 3 390 11 54 15 33 20 15 45 10 40 1 40-12 30-22 30-38 30-63 40-46 14-22 45-115 39-70 2-25-9-30-38-70-51-70-43-50-11-20-1-40 13-75 8-85-6-70-9-65-7-20-16-25-20-16-55-14zM4329 1370l-26 20-30 40-13 30-2 30 10 25 24 22 40 16 31-2 30-17 25-24 16-30 3-30-16-35-33-35-30-14zM3877 1530l-20 10-35 30-13 15-9 20-10 70 2 50 8 30 22 29 35 18 100 11 55-1 20-6 16-11 27-35 17-30 7-25 1-20-13-50-15-20-20-15-120-62-30-10zM4248 2160l-26 8-25 14-80 74-22 39-7 25-1 20 6 15 14 15 55 25 50 10 65-1 63-9 78-32 18-13 7-10 2-30-18-80-14-25-20-20-26-15-35-9-45-5z"/><path fill="#00ffe6" d="M3772 170l1126 0 0 2260-522 0 12-3 130-40 15-17 2-10-4-15-47-55-31-80-14-20-16-15-30-18-35-12-96-11-50 7-35 18-82 81-38 54-43 51-4 20 10 20 28 25 37 20-318 0 0-2260zM3915 270l-33 5-25 9-53 41-14 30-18 75-2 810 14 100 8 15 10 5 85 2 40-8 35-18 35-35 17-26 26-60 52-65 47-120 42-70 3-20-10-35-37-70-94-120-11-20-2-40 13-65 12-90-16-140-9-30-18-32-20-17-40-8zM4783 435l5 10 10 5 3-5-3-7-10-5zM4340 1360l-33 18-34 42-21 40-4 35 9 25 25 23 45 18 31-1 35-17 30-28 16-30 4-30-12-35-29-35-34-22zM3872 1510l-30 10-35 24-12 11-8 16-7 34-3 60 0 75 8 35 17 20 35 14 180 17 25-3 15-9 46-74 8-25 2-20-4-25-11-30-15-25-26-20-77-40-58-36-25-9z"/><path fill="#00ffd9" d="M3772 170l1126 0 0 234-12-9-73-32-40-13-25-2-20 5-13 12-10 20-3 25 5 20 12 15 69 67 30 14 15 0 11-6 24-42 30-33 0 105-17 10-8 10-6 40 8 90 23 77 0 1440-34 38-34 60-22 16-30 3-80-17-85 1-35-11-50-34-15-18-35-65-30-29-52-26-64-15-105-13-40 1-20 4-19 18-28 50-38 34-47 61-33 23-65 30-25 5-25 0-95-14-25-10 0-465 15-12 20-5 105-5 65 7 90 27 15-1 10-15 11-45 22-55 7-30-1-25-8-25-18-35-16-20-96-55-76-55-75-22-14-23 0-30 9-18 15-12 55-14 35-14 30-19 25-25 25-38 28-65 47-60 50-124 42-66 6-20-8-35-39-75-93-120-13-25 0-40 15-65 11-90-9-55-7-90-23-65-17-21-20-8-70-2-50 10-25 12-58 39-9 20-8 40 0-205zM4336 1355l-33 20-40 50-20 40-5 35 9 28 25 22 45 18 36 1 34-14 37-30 20-35 4-35-11-35-34-41-35-22-15-4z"/><path fill="#00ffcc" d="M3772 170l1126 0 0 153-85-9-70-20-30-1-15 6-10 12-8 24-5 40 1 40 10 25 60 55 32 41 37 34 10 15 9 25 19 101 22 89 8 21 15 18 0 1281-40 43-60 49-30 15-35 4-70-1-55 4-30-5-30-16-55-53-39-25-71-26-96-19-45-25-8-10-5-15 3-75-10-41-19-29-59-50-16-30-2-30 19-75-3-25-13-30-24-40-14-15-108-65-53-50-40-45-2-15 8-15 76-59 40-52 35-79 50-68 47-117 46-70 5-25-9-35-39-75-86-110-17-30-1-35 16-70 13-90-12-70-6-85-22-78-15-17-20-7-85-1-60 15-85 37 0-119zM4335 1350l-34 20-48 60-18 35-7 45 9 29 26 21 49 16 41 1 35-14 40-33 20-35 5-40-14-40-33-40-38-24-15-3zM3872 1830l45-2 40 5 35 11 30 16 22 20 26 35 19 40 12 40 6 40 0 40-4 45-8 30-68 99-20 18-30 16-55 21-40-1-90-32-13-16-9-25-3-16 0-278 4-26 12-30 20-25 29-16z"/><path fill="#00ffc0" d="M3772 170l1126 0 0 82-70 8-85-18-45-2-37 10-11 10-2 10 4 35 0 65 10 60 14 20 58 55 34 52 35 43 45 185 7 70 8 12 26 13 9 20 0 272-10 20-2 18 3 20 9 20 0 775-50 56-50 41-35 18-40 11-150 1-25-6-89-36-135-40-21-10-11-12-7-18-9-75-18-55-26-33-56-47-16-25-3-20 9-45 1-25-5-20-12-25-45-60-23-17-56-28-28-20-35-35-24-35-9-30 4-25 53-62 25-37 39-91 51-70 47-120 47-65 4-30-10-35-36-70-87-110-17-35 1-35 16-65 13-90-14-80-2-75-12-75-7-20-18-19-20-8-85 0-50 8-105 32 0-88zM4335 1345l-23 10-15 12-54 68-20 40-8 45 7 30 20 17 50 17 51 3 40-13 45-34 23-35 8-40-3-25-8-20-35-45-40-27-20-5zM3887 1835l35-1 40 7 31 14 25 20 20 25 16 30 24 90 1 80-5 30-9 25-35 60-19 25-24 19-40 19-30 9-25 0-59-22-21-12-13-13-10-20-21-85-1-105 12-90 8-30 15-27 25-25 25-14z"/><path fill="#00ffb4" d="M3772 170l958 0-14 15-48 21-25 17-17 17-6 20 12 45 1 60 15 66 10 16 36 33 31 35 63 111 24 79 14 70 3 25-1 73 5 11 29 36 12 55 2 30-7 55 2 75-16 145 15 100 4 45-10 120 10 110 1 100-5 65-10 65 1 70-8 29-20 25-84 71-26 16-25 7-90-3-55 1-35-3-110-28-38-15-24-15-14-14-7-16-23-85-16-40-22-30-51-50-13-20-4-20-1-65-9-25-14-25-21-25-39-35-75-37-25-18-29-30-22-35-9-35 7-30 58-90 39-95 46-65 48-120 52-74 3-31-13-39-33-66-81-100-20-40-1-30 18-70 12-90-2-30-13-55 2-60-7-95-10-31-25-24-30-7-120 7-80 14-35 13 0-57zM4336 1340l-24 10-15 11-64 79-27 55-8 45 6 25 8 10 15 9 50 11 55 2 46-12 50-35 25-35 11-45-2-25-9-25-33-45-22-19-25-13-20-5zM3902 1840l35 1 30 9 24 15 25 25 24 45 22 100-5 90-11 30-22 40-15 25-19 20-23 15-35 14-25 4-25-4-40-16-24-18-14-20-10-25-11-40-6-35 1-90 11-80 9-30 15-25 31-30 28-14z"/><path fill="#00ffa0" d="M4062 170l572 0 0 20-26 46-6 19 16 50 2 60 12 55 16 30 40 35 31 40 27 65 29 55 32 110 6 116 7 19 27 40 9 45 1 30-10 45 4 60-5 85-15 90 17 115-7 145 13 110-2 90-10 80-22 100-10 25-17 20-35 26-40 43-25 17-35 7-115 6-40-2-80-19-28-13-21-15-23-35-33-95-16-31-47-59-15-25-5-20-4-50-16-50-2-20 5-10 19-9 90-8 41-10 35-19 35-29 23-40 8-40-7-40-23-40-36-35-35-19-30-1-34 15-26 25-55 70-34 60-22 65-15 12-40-7-78-35-23-20-19-25-14-25-7-25 0-20 6-20 45-87 34-88 46-68 49-122 52-70 8-25-9-45-33-70-22-32-62-73-20-40 0-30 18-70 11-100-2-30-14-55 5-50-3-50 2-65-6-25-18-40zM3887 1849l30-4 30 5 25 11 22 19 19 25 12 25 22 95-2 85-13 45-28 50-15 20-22 17-30 13-25 5-25-2-30-11-25-17-23-35-14-40-6-30-2-100 17-95 13-27 25-28 20-16z"/><path fill="#00ff8c" d="M4112 172l477-2 6 5 7 10 2 15-16 55 20 50 0 55 14 60 16 30 44 40 26 35 13 25 15 50 26 50 30 100 10 125 33 60 8 30 1 35-9 50 3 55-4 90-17 90 14 100-4 160 12 95-1 75-18 110-19 75-10 25-18 23-65 55-35 21-30 8-75 9-60 1-65-15-25-12-20-15-24-35-34-85-17-35-33-50-12-25-16-100 1-15 5-10 14-10 76-24 35-17 38-29 22-25 17-40 4-35-9-40-24-40-33-32-35-20-30-3-31 10-26 20-59 70-45 60-33 55-12 10-15 4-40-7-45-22-32-40-17-45 0-20 5-25 37-85 29-80 50-80 45-115 50-65 11-25 0-20-8-31-28-64-26-40-62-70-14-25-6-20 1-25 18-65 9-70 1-65-13-40-2-20 7-40-2-55 7-55 2-50 5-15zM3892 1854l25-3 30 5 20 10 21 19 17 25 11 25 20 95-3 80-13 45-38 61-20 16-30 13-25 3-20-2-25-9-20-14-23-33-14-35-7-35-3-95 8-55 9-35 12-25 23-28 21-17z"/><path fill="#00ff80" d="M4152 175l20-5 384 0 22 15 7 10 3 15-10 50 21 45 0 55 14 60 16 30 53 50 27 45 16 55 26 55 26 80 6 35 10 108 34 62 7 25 0 30-8 55-1 140-20 100 13 85-4 75 1 90 11 90 0 70-30 150-20 60-13 19-20 18-45 34-30 17-35 10-65 9-65 0-50-15-37-27-23-38-41-92-39-80-7-40-5-55 6-15 10-11 71-37 40-29 22-23 15-25 13-40 0-35-12-40-28-40-34-30-36-18-25-2-31 11-35 27-75 90-28 27-37 48-25 13-35-4-35-19-24-33-14-45 0-25 5-25 53-152 50-82 45-116 52-65 11-25-1-25-7-28-28-67-26-40-63-70-13-25-4-20 4-30 15-51 9-74 2-65-16-55 9-45 1-65 17-90 12-15zM3897 1859l25-2 25 6 20 12 18 20 23 45 19 95-3 70-13 45-34 57-20 17-25 10-25 4-20-3-20-7-20-14-15-19-12-25-13-55-4-90 14-80 14-30 20-25 24-20z"/><path fill="#00ff66" d="M4192 175l13-5 330 0 35 25 7 20-8 45 23 45-2 55 16 65 18 30 54 50 25 45 15 54 26 61 23 75 17 140 35 65 6 20-7 85-2 140-22 100 12 80-2 170 10 95 0 60-36 165-15 40-15 20-25 22-35 23-30 13-95 17-60-2-35-14-32-29-41-75-26-60-28-75-7-50 3-25 15-20 66-50 35-34 20-34 12-42 0-25-10-35-16-30-21-27-30-26-35-18-25-4-31 9-35 24-85 94-32 23-35 40-28 14-30-4-27-20-17-30-10-40 5-50 44-140 49-85 42-110 56-70 10-25 0-25-5-25-27-70-25-40-65-70-11-20-5-25 2-25 17-55 6-50 4-85-14-60 9-45 1-60 14-70 7-19 10-11zM3902 1864l20-1 25 7 20 15 15 19 18 41 18 95-4 70-15 45-32 49-20 14-20 7-40 0-20-9-15-11-12-15-14-30-12-50-3-85 13-75 13-28 20-27 23-20z"/><path fill="#55ff55" d="M4222 175l35-4 255-1 21 9 28 21 7 20-7 40 24 45-2 55 17 70 16 25 54 50 26 45 62 195 18 135 35 70 5 20-6 85-1 130-26 105 13 85-2 150 7 170-24 90-15 75-11 30-15 20-23 19-60 31-85 14-30 1-28-5-29-15-23-25-71-145-22-75-3-25 3-20 15-25 58-53 23-27 20-40 10-40-1-25-9-30-17-30-26-33-30-24-35-18-25-4-26 7-40 24-90 93-35 19-40 38-20 8-25-5-20-16-12-24-9-40 5-55 22-85 14-39 48-86 41-110 56-68 11-27-3-45-27-80-26-40-65-69-10-21-4-20 25-125 5-90-13-65 9-40 0-55 18-75 7-15 12-10zM3907 1870l20 0 20 8 15 13 14 19 18 45 16 90-5 65-18 50-25 37-20 13-20 6-25 1-20-6-17-11-13-15-22-55-7-80 4-60 15-52 31-43 24-19z"/><path fill="#80ff33" d="M4353 175l40-1 55 6 55-4 30 12 24 22 2 15-7 35 25 40-1 60 19 75 13 20 58 55 25 45 59 195 19 130 34 75 4 25-5 205-29 105 13 85-2 110 4 205-6 30-20 60-16 80-10 25-18 20-25 17-60 24-80 8-27-4-22-10-28-30-65-135-19-60-6-30 2-21 14-29 51-53 18-27 17-37 8-38-1-30-17-40-28-40-32-30-30-18-25-10-20 0-26 9-38 24-82 82-45 22-35 28-20 8-20-3-18-17-12-28-5-32 7-60 15-65 12-35 55-105 31-90 61-75 11-35-2-25-10-42-20-58-25-36-59-59-11-17-5-18 0-25 18-70 7-45 4-85-12-60 8-45 3-65 21-70 26-20 30-12 30-7 65-1zM3902 1879l15-3 20 6 15 10 15 19 19 44 15 85-1 55-15 50-24 40-14 12-20 8-36 0-19-8-14-12-21-43-10-52-1-70 11-61 25-45 20-21z"/><path fill="#a0ff10" d="M4332 185l51-4 65 7 55-4 25 10 20 17 3 14-9 25 0 10 30 45-2 55 18 75 12 20 58 55 28 50 55 190 20 130 32 75 6 30-4 200-7 30-24 70 14 100-4 300-4 25-22 65-16 75-9 24-14 16-21 15-30 15-30 9-65 6-25-5-20-9-25-25-30-61-42-95-15-55 0-20 6-20 66-89 16-41 8-40-1-25-15-35-26-40-29-30-28-20-30-14-20-4-21 3-50 27-55 56-30 25-95 47-20-2-13-13-11-25-5-30 5-55 12-60 12-35 57-115 27-80 58-70 10-20 5-20-2-25-13-60-15-45-27-38-59-57-13-30 1-25 24-110 4-90-11-60 8-45 2-60 24-68 25-22 25-10 30-7zM3912 1885l15 2 15 8 15 16 13 24 17 60 8 70-8 50-25 54-20 19-30 9-20-2-15-7-21-23-19-54-5-61 5-60 12-40 32-45 16-14z"/><path fill="#bbff00" d="M4353 190l40-2 55 7 50-4 24 9 16 15 2 10-6 35 31 45-2 55 13 40 9 45 70 70 16 25 14 35 51 190 17 110 31 80 7 35-3 195-7 30-21 50-4 20 13 110-9 285-6 30-20 55-28 95-12 15-19 15-52 20-55 4-25-6-17-8-23-27-64-138-14-45-2-30 11-30 36-50 18-32 15-43 5-40-4-25-18-35-29-40-29-28-30-19-30-13-15-3-20 4-54 29-52 52-30 23-90 35-15-1-15-13-10-25-3-26 0-30 10-60 17-50 52-110 24-75 17-25 45-50 10-20 5-25-15-95-12-35-28-40-57-51-13-29 2-25 23-110 5-90-10-60 6-45 1-55 29-70 22-20 50-14zM3907 1898l15-1 15 7 24 31 15 45 10 75-4 45-17 45-18 26-30 14-30-5-20-17-19-43-9-45 3-68 10-42 25-42z"/><path fill="#d0ff00" d="M4322 200l61-5 65 8 45-4 20 5 12 11 3 10-2 35 32 46-1 54 13 40 9 45 10 15 63 60 15 25 14 35 49 195 13 90 33 90 7 35-1 190-6 30-23 54-5 21 13 115-14 255-8 45-50 140-11 17-15 13-45 20-40 2-37-12-13-11-15-25-60-122-14-42-1-20 4-20 51-90 15-45 5-40-2-20-17-35-28-40-28-30-25-18-35-18-20-6-15 1-64 31-52 50-30 23-25 11-55 13-16-2-14-11-9-19-4-25 1-35 9-55 18-50 47-105 20-65 16-25 49-55 15-45-13-105-9-28-29-42-57-50-11-25 1-25 22-90 2-65 6-45-9-60 4-100 30-65 16-17 55-16zM3902 1915l15-5 10 3 15 12 10 15 15 40 10 65-1 40-10 35-21 35-23 16-25 0-20-15-20-36-11-40 4-65 7-40 20-36z"/><path fill="#e6ff00" d="M4343 205l50-2 60 8 40-4 11 3 11 10 2 40 27 35 7 15 0 50 14 40 10 50 70 70 18 30 14 35 47 200 8 70 37 105 6 35 0 185-5 25-23 55-6 25 12 125-4 100-12 120-14 60-50 120-22 30-33 20-35 3-30-14-25-32-65-112-10-35 4-35 34-65 16-40 10-40 1-35-8-25-20-35-31-40-27-25-59-33-15-4-15 1-66 32-50 48-30 22-25 10-30 6-25-1-15-7-12-19-6-25 3-52 15-58 51-125 19-63 17-27 49-55 17-45-9-60 0-55-5-20-24-36-65-59-10-20 2-25 20-75 2-80 9-50-10-55 2-95 30-65 15-15 55-16zM3907 1929l15 0 10 5 19 26 10 35 7 60-1 30-11 30-19 29-20 12-20-3-16-13-19-35-8-30 5-60 7-35 17-30z"/><path fill="#f8ff00" d="M4378 210l70 9 45-1 10 7 5 35 28 35 8 15 2 50 24 90 11 15 61 60 15 25 16 40 45 205 5 55 38 110 7 40 0 180-5 25-23 55-5 25 10 110-3 105-18 125-20 55-46 87-20 26-30 19-15 1-20-6-20-14-25-26-40-53-18-34-4-20 2-20 26-60 27-80 3-35-5-25-17-35-34-46-25-26-30-21-50-23-25 2-66 34-65 58-20 11-25 6-30 0-20-8-12-17-6-25 3-40 17-75 42-105 19-65 19-30 49-55 18-45-8-60 5-60-3-20-28-40-60-59-7-16 2-20 18-70-3-75 10-60-10-55 4-40-1-55 27-55 22-20 48-15zM3907 1949l10-1 10 4 16 18 9 30 6 55-2 25-9 25-15 21-16 9-14-1-17-14-14-25-6-25 4-50 7-35 16-25z"/><path fill="#fff000" d="M4332 220l66-3 80 15 10 7 9 21 35 40 6 15 3 50 24 85 13 18 60 61 15 26 15 38 41 202 4 55 39 105 8 35 3 60-1 125-4 25-23 55-7 30 10 115-3 85-17 104-15 49-25 47-25 35-20 20-30 15-35-2-25-13-30-26-20-24-9-20-4-20 2-20 23-60 22-75 1-35-5-25-19-35-34-45-24-25-29-20-49-24-25-2-71 36-65 57-20 10-20 4-25-1-20-9-12-16-5-20 1-30 16-85 39-100 17-60 17-30 54-60 13-25 5-20-6-65 11-55-1-20-14-25-61-75-10-25 14-65-11-80 8-70-9-55 5-40 0-55 18-40 26-26 40-16zM3907 1975l15 0 10 10 11 55-2 40-9 16-15 11-15-2-10-9-12-31 1-35 6-28 9-17z"/><path fill="#ffdf00" d="M4297 230l96-5 70 16 15 8 46 51 7 20 4 45 25 85 13 19 59 61 15 25 15 40 36 200 5 55 40 100 8 30 5 65-1 120-5 35-27 80 8 125-2 65-8 55-20 80-29 55-29 37-30 20-35 5-20-6-30-16-17-15-13-20-4-35 17-55 22-80 1-30-6-30-18-35-32-43-25-27-28-20-57-29-25-2-76 39-60 52-35 13-20-1-16-7-13-15-6-20 0-25 14-95 33-85 18-65 17-30 56-60 19-40-4-70 16-70-9-25-52-70-12-30 6-70-19-75 0-25 8-50-10-60 6-35-1-50 12-30 17-22 15-12 25-11z"/><path fill="#ffcf00" d="M4327 235l66-1 65 15 25 16 36 40 10 60 26 85 13 20 58 60 15 25 13 35 28 160 11 105 36 80 15 50 4 60 0 120-5 30-20 60-6 30 7 125-1 50-9 55-20 75-31 56-25 30-35 20-35 0-40-19-14-17-6-15 0-30 20-70 9-30 3-30-3-35-8-25-21-35-40-50-25-24-25-15-50-25-25-1-76 37-55 48-35 14-20-2-13-7-11-15-5-15 8-100 7-35 23-55 25-85 17-25 49-50 23-35 3-20-4-60 19-65-6-25-46-70-12-35 1-70-19-55-5-30 7-65-10-55 6-40 0-50 13-30 25-24 35-15z"/><path fill="#ffbf00" d="M4312 244l61-3 70 12 35 17 34 35 5 15 5 45 27 85 14 21 56 59 26 50 14 55 5 60 11 60 9 105 34 65 18 55 4 40 0 140-4 35-18 56-6 39 5 165-9 51-21 69-29 54-30 34-30 14-35-1-30-18-13-28 3-30 18-70 5-30-2-35-7-35-16-30-42-55-25-25-26-19-50-26-25-6-21 5-75 38-45 39-25 13-15 1-15-5-10-10-7-20 7-120 25-65 19-75 21-34 70-71 8-20-3-70 19-60 2-20-7-20-37-60-12-30-3-80-23-60-5-25 6-70-9-55 5-35 1-45 8-25 13-15 17-13z"/><path fill="#ffaf00" d="M4332 250l41-1 70 12 35 17 26 27 6 15 6 45 27 85 17 25 53 55 25 45 15 65 4 60 10 55 1 45 7 65 6 15 30 45 19 60 2 170-5 40-15 55-5 40 4 160-8 41-23 74-27 49-35 36-15 8-20 4-30-9-15-18-5-20 18-95 2-35-8-45-9-25-51-70-42-40-70-37-20-4-21 5-82 41-42 35-21 10-12 0-10-5-12-20 0-115 24-68 15-67 22-40 81-80 4-20-3-65 22-70-7-30-44-85-7-90-28-75-2-25 6-45-8-60 6-80 8-22 20-19 35-17z"/><path fill="#ff9f00" d="M4317 260l46-4 70 9 35 14 29 26 5 15 7 45 28 85 17 25 54 57 24 43 16 65 2 60 10 50 0 50 8 70 5 12 30 43 19 55 4 140-6 70-18 100 2 160-21 76-20 51-30 39-35 25-15 2-15-2-15-15-5-21 13-85-2-40-9-45-10-25-57-75-40-36-70-36-20-4-21 5-35 19-55 23-50 34-15-1-8-14-7-110 21-65 16-75 18-32 76-68 9-13 4-12-2-70 20-65 2-20-9-25-38-80-9-90-28-70-3-30 6-45-9-60 8-75 7-20 26-24z"/><path fill="#ff8f00" d="M4338 265l35-1 65 9 35 17 18 20 10 55 29 85 18 25 55 59 23 41 16 65 1 60 11 55-1 45 9 75 37 55 17 50 3 135-22 170-4 65 2 95-7 32-25 73-15 27-35 33-15 7-15 1-10-7-5-16 3-80-8-55-12-40-17-30-56-68-40-32-60-31-25-5-26 6-35 20-90 27-10-7-19-60 0-40 15-45 10-60 10-30 19-26 75-64 11-25 0-70 18-65 1-20-8-30-33-75-12-90-28-75-2-25 5-45-10-60 9-70 10-25 34-25z"/><path fill="#ff8000" d="M4327 274l41-3 65 7 29 12 21 20 11 55 29 85 18 25 57 61 25 44 13 60 2 60 9 55 1 45 9 75 6 15 32 45 15 45 2 130-22 195-5 135-5 25-34 90-18 18-20 7-10-5-5-10-14-75-14-50-11-30-20-30-55-65-41-32-60-30-25-4-26 6-45 22-55 9-14-6-14-15-16-35 0-30 12-45 9-60 10-30 23-30 69-55 13-30 2-70 15-60 2-25-6-26-33-89-13-85-26-70-3-25 5-45-10-60 10-65 7-20 23-23z"/><path fill="#ff7000" d="M4343 280l35-2 45 4 26 8 20 15 11 20 7 40 28 85 73 83 25 36 8 21 10 50 2 60 19 175 6 16 31 44 15 45 2 130-12 95-20 220-10 40-26 63-10 11-10 0-15-23-38-101-18-30-59-69-25-23-30-19-50-26-25-5-26 4-50 23-45 3-15-7-11-11-16-35-1-25 13-88 13-42 22-27 68-53 10-15 6-20 3-70 14-60 0-30-34-110-15-85-26-70-2-25 5-45-12-60 11-60 11-25 21-18z"/><path fill="#ff6000" d="M4378 285l55 5 15 7 15 13 10 18 7 37 28 85 80 92 24 38 13 60 22 235 8 20 30 45 14 45 1 130-32 272-6 33-9 25-20 35-10 4-10-4-15-17-35-68-29-35-38-45-28-26-75-44-25-8-20 0-21 5-40 18-35 3-15-5-15-13-9-15-6-20 6-95 13-50 22-25 62-45 19-30 6-30 2-55 12-65-4-50-26-85-16-85-27-75-2-20 5-45-12-45 0-30 15-50 18-25 32-14z"/><path fill="#ff5000" d="M4358 295l55-2 25 7 15 11 11 19 39 125 80 91 25 37 10 47 24 240 8 25 32 50 11 40 2 120-19 175-15 90-13 44-20 27-15 2-10-7-35-51-32-35-63-66-70-42-25-10-25-2-21 3-50 19-25-1-15-8-10-11-13-37 0-70 4-30 8-25 21-26 68-49 13-20 9-35 4-60 9-55-1-50-25-90-18-90-26-75-2-20 5-45-16-60 12-45 16-30 20-15z"/><path fill="#ff4000" d="M4388 299l20 1 20 5 20 15 10 18 41 122 79 90 27 40 14 100 14 165 14 45 31 50 10 40 1 120-19 170-16 75-11 30-15 20-10 4-10-2-91-92-59-52-70-36-35-5-66 17-25-2-10-7-10-15-15-50 2-60 13-40 19-20 56-37 22-28 13-45 9-95-3-80-17-60-23-110-26-75 6-65-17-40-2-20 18-45 15-21 26-14z"/><path fill="#ff3000" d="M4388 310l30 3 23 17 12 23 41 112 84 97 23 33 14 100 0 50 10 55 2 50 14 50 34 55 8 35 1 110-6 70-15 114-25 77-10 12-10 6-20-4-90-82-55-44-65-32-35-4-56 13-25-3-10-8-9-15-17-50 1-45 12-35 18-20 45-28 21-17 16-25 13-45 8-90-4-90-16-55-24-115-24-70-1-20 7-45-19-40-3-15 16-39 20-24 23-12z"/><path fill="#ff2000" d="M4368 329l35-3 15 6 15 14 25 46 30 78 107 130 6 60 8 40-2 50 12 50 1 50 15 50 32 50 9 30 2 115-4 65-19 120-17 44-15 22-10 5-10-1-25-14-56-46-64-50-60-32-40-7-56 11-20-3-16-19-17-45-1-40 9-30 15-17 54-33 21-20 15-30 16-60 3-60-6-55-1-50-14-50-11-70-38-120 0-15 9-35-1-15-23-45 6-21 20-28 21-14z"/><path fill="#ff1000" d="M4363 355l55 14 15 10 15 22 32 74 32 35 71 90 18 100-3 50 13 50 1 50 19 55 30 45 8 25 4 65-2 110-31 135-17 24-10 6-10 1-80-44-75-53-45-23-45-9-61 5-10-12-23-55-1-25 10-25 17-15 53-33 23-27 19-50 18-65-17-80-1-60-12-50-7-55-40-130 8-65-20-45 3-15 11-15 15-10z"/><path fill="#ff0000" d="M4363 400l35-2 23 12 43 65 44 47 64 93 14 85-1 65 11 40 4 40 26 65 29 40 9 25 4 70-1 105-11 50-23 59-10 13-15 4-65-17-25-11-100-66-86-24-35-33-10-20 1-15 11-15 59-39 20-21 56-130-3-20-29-60-2-70-13-100-39-120 3-25 23-45-15-35z"/><path fill="#fa0000" d="M4423 489l15-1 10 4 40 33 20 28 43 77 7 35-4 35 1 45-8 55 6 11 25 26 41 78 32 40 7 25 5 70-1 100-13 45-11 24-15 19-20 9-55-12-35-15-85-63-70-34-15-13-5-10 2-10 8-10 45-30 18-20 20-70 32-55 9-25 0-15-6-15-31-40-9-20 4-45 19-45-13-45-5-50-33-36-14-34 1-15 8-13z"/><path fill="#ee0000" d="M4543 873l20 1 20 16 60 67 8 28 5 65-2 110-16 37-15 17-20 7-25-5-45-14-30-19-29-33-15-35 1-20 12-45-4-60 5-25 45-68z"/><path fill="#e00000" d="M4558 934l10-3 15 1 30 14 20 16 8 23 7 65-3 40 3 64-10 22-15 17-15 5-15-3-40-14-25-16-19-25-7-25 1-25 16-105 16-30z"/><path fill="#d40000" d="M4593 974l20-1 12 17 10 55-1 50 4 45-5 20-10 11-15 5-20-5-25-16-15-15-9-20-1-20 24-95 11-17z"/><path fill="#c80000" d="M4598 1074l10 4 10 42-4 20-11 3-18-13-7-20 5-21z"/></g><path fill="none" stroke="#000" stroke-linecap="round" stroke-width="1.35" stroke-opacity="0.85" d="M382.5 18.4l-0.6-0.0M389.0 18.4l-1.0 0.0M395.3 18.4l-1.2 0.0M401.5 18.4l-0.9-0.0M407.4 18.8l-0.2-0.8M412.7 18.9l1.6-1.0M418.1 19.1l3.4-1.3M424.1 18.5l4.0-0.1M430.4 18.6l4.0-0.5M436.6 18.4l4.0 0.1M442.9 18.4l4.0-0.0M449.3 17.8l3.8 1.1M456.6 17.7l1.6 1.5M463.8 18.0l-0.2 0.8M470.1 18.3l-0.3 0.2M476.3 18.4l-0.2 0.1M482.5 18.4l-0.0 0.0M488.7 18.3l0.1 0.2M382.8 24.4l-1.2 0.4M389.4 24.4l-1.8 0.4M395.6 24.7l-1.7-0.0M401.7 25.0l-1.3-0.7M407.4 25.6l-0.2-1.8M413.3 26.1l0.5-2.9M419.2 25.7l1.2-2.1M424.8 25.3l2.6-1.2M430.4 24.9l4.0-0.5M436.8 24.4l3.8 0.6M443.2 24.1l3.4 1.0M451.1 23.2l0.1 2.9M457.8 22.9l-0.7 3.4M464.0 24.2l-0.7 0.9M470.3 24.6l-0.7 0.0M476.5 24.7l-0.5-0.1M482.7 24.7l-0.4-0.0M489.1 24.6l-0.6 0.1M383.2 30.1l-2.0 1.6M390.1 30.5l-3.3 0.7M396.2 31.3l-3.0-0.9M401.7 31.7l-1.4-1.7M407.4 32.4l-0.3-2.9M413.4 32.7l0.2-3.5M419.6 32.2l0.4-2.7M425.4 32.2l1.4-2.7M431.1 31.5l2.6-1.2M437.3 31.1l2.7-0.4M443.6 29.7l2.7 2.4M450.4 29.1l1.6 3.7M457.2 28.9l0.4 4.0M463.6 30.0l0.2 1.8M470.2 30.7l-0.4 0.3M476.6 31.0l-0.6-0.2M482.8 30.9l-0.6-0.1M489.0 30.9l-0.4 0.0M382.8 35.2l-1.2 3.8M390.0 36.5l-3.1 1.2M396.3 38.2l-3.1-2.1M401.5 38.8l-0.9-3.3M407.1 39.1l0.3-3.9M413.2 38.8l0.6-3.2M419.6 38.6l0.5-3.0M425.7 39.1l0.8-3.9M431.8 37.7l1.0-1.2M438.2 37.0l1.0 0.3M444.4 36.0l1.1 2.3M450.6 35.2l1.2 3.8M456.9 35.2l1.2 3.8M463.5 36.2l0.3 2.0M470.1 36.8l-0.3 0.8M476.5 37.2l-0.5-0.0M482.8 37.3l-0.5-0.2M489.1 37.2l-0.5-0.2M382.7 41.5l-1.0 3.9M389.7 42.5l-2.6 1.8M396.0 44.6l-2.5-2.4M401.6 45.3l-1.1-3.8M407.7 45.3l-0.9-3.9M413.9 45.0l-0.7-3.2M420.2 44.9l-0.7-3.0M426.6 45.3l-1.1-3.8M432.8 44.3l-0.8-1.9M438.7 43.4l-0.1-0.1M444.6 42.7l0.6 1.4M450.6 41.5l1.1 3.9M457.0 41.4l0.9 3.9M463.0 41.9l1.5 2.9M469.6 42.9l0.7 1.1M476.2 43.3l0.2 0.3M482.6 43.5l-0.1-0.3M488.7 43.5l0.1-0.3M382.2 47.7l-0.0 4.0M389.2 48.7l-1.5 1.9M395.2 51.3l-0.9-3.3M400.8 51.6l0.4-4.0M407.3 51.6l-0.1-4.0M413.4 51.5l0.3-3.8M419.6 51.1l0.4-2.9M426.0 51.5l0.3-3.7M432.2 50.6l0.2-1.8M438.4 49.9l0.5-0.4M444.5 49.4l0.7 0.4M449.8 48.2l2.8 2.9M456.0 48.3l2.9 2.7M462.3 48.3l2.9 2.7M468.8 48.2l2.3 2.8M475.8 49.1l1.0 1.2M482.3 49.8l0.4-0.3M488.7 49.8l0.2-0.2M382.3 53.9l-0.1 4.0M388.5 54.4l-0.1 3.0M394.9 57.9l-0.3-4.0M400.9 57.9l0.3-4.0M407.0 57.9l0.6-4.0M413.4 57.6l0.4-3.4M420.1 57.0l-0.5-2.3M426.8 57.5l-1.5-3.3M432.9 57.3l-1.0-2.8M438.8 56.3l-0.3-0.7M445.0 56.0l-0.2-0.2M450.8 55.3l0.7 1.1M456.2 54.4l2.5 3.0M462.9 54.1l1.7 3.6M469.3 54.0l1.3 3.8M475.8 55.2l0.9 1.4M482.2 55.7l0.5 0.5M489.0 55.8l-0.4 0.2M382.1 60.2l0.1 4.0M387.5 61.2l2.0 1.9M393.6 63.8l2.2-3.3M400.8 64.1l0.4-4.0M406.7 64.1l1.2-3.8M413.2 63.6l0.7-2.9M419.7 62.8l0.3-1.4M426.1 63.5l-0.1-2.8M432.7 63.8l-0.7-3.4M438.8 62.6l-0.3-1.0M444.9 62.4l-0.1-0.5M451.1 62.0l0.1 0.3M457.2 61.3l0.5 1.7M463.3 60.2l0.9 3.9M469.4 60.2l1.1 3.9M475.8 61.3l1.0 1.7M482.4 61.5l0.3 1.2M488.8 61.8l-0.1 0.7M382.1 66.4l0.3 4.0M388.4 67.7l0.1 1.4M394.9 70.4l-0.2-4.0M401.2 70.4l-0.3-4.0M407.7 70.4l-0.8-3.9M413.7 69.6l-0.3-2.5M420.1 69.0l-0.5-1.1M426.4 69.6l-0.5-2.3M432.8 70.1l-0.9-3.4M438.7 69.1l-0.1-1.3M445.0 68.6l-0.1-0.4M451.2 68.4l-0.1 0.0M457.4 67.8l0.0 1.3M463.8 66.4l-0.1 4.0M469.4 66.5l1.1 3.8M475.9 67.1l0.8 2.7M482.3 67.6l0.4 1.5M488.7 67.9l0.1 0.9M382.7 72.7l-1.0 3.9M388.8 74.0l-0.8 1.2M395.3 76.0l-1.1-2.7M402.4 76.0l-2.9-2.8M408.6 76.2l-2.6-3.0M415.0 76.0l-2.9-2.8M420.7 75.5l-1.8-1.8M426.9 75.6l-1.5-2.0M433.1 76.5l-1.6-3.7M438.8 75.8l-0.2-2.3M444.8 74.8l0.2-0.4M451.2 74.6l-0.0 0.1M457.5 74.0l-0.0 1.3M463.4 72.7l0.5 4.0M469.6 72.8l0.7 3.7M475.9 73.1l0.7 3.2M482.3 73.8l0.4 1.8M488.6 74.1l0.3 1.0M382.4 78.9l-0.4 4.0M388.8 80.6l-0.6 0.6M395.4 81.4l-1.3-1.0M402.1 81.9l-2.2-1.9M408.3 82.6l-2.0-3.5M414.7 82.5l-2.4-3.2M420.8 82.5l-1.9-3.3M426.2 82.0l-0.1-2.1M432.0 82.9l0.7-3.9M438.9 82.1l-0.5-2.5M445.1 81.1l-0.3-0.4M451.2 80.8l0.0 0.1M457.2 80.6l0.5 0.5M463.6 78.9l0.2 4.0M469.9 79.4l0.1 2.9M476.1 79.0l0.3 3.8M482.5 80.1l-0.1 1.6M488.6 80.5l0.5 0.9M382.5 85.2l-0.5 4.0M389.1 86.5l-1.3 1.2M395.4 87.5l-1.4-0.6M401.8 87.8l-1.6-1.3M408.4 88.8l-2.2-3.3M414.5 88.9l-1.9-3.5M420.6 89.0l-1.6-3.7M426.0 89.1l0.1-3.8M432.0 89.0l0.7-3.8M438.6 88.0l-0.0-1.7M445.0 87.6l-0.1-0.8M451.1 87.4l0.2-0.5M457.1 86.8l0.7 0.7M463.2 85.2l1.0 3.9M469.3 85.8l1.4 2.7M475.8 85.2l0.9 3.9M482.3 86.2l0.4 1.8M488.5 87.0l0.6 0.4M382.5 91.4l-0.6 3.9M390.1 92.4l-3.2 2.0M396.4 93.8l-3.3-0.8M402.3 94.1l-2.6-1.4M408.3 95.1l-2.0-3.5M413.9 95.4l-0.7-3.9M420.1 95.4l-0.5-4.0M425.9 95.4l0.4-4.0M432.3 95.4l0.2-4.0M438.4 94.3l0.5-1.8M444.6 93.8l0.5-0.8M451.0 93.7l0.4-0.5M457.2 93.4l0.5-0.0M462.4 91.9l2.6 3.0M469.1 91.6l1.7 3.6M475.5 91.6l1.6 3.7M481.8 92.0l1.5 2.8M488.7 93.0l0.2 0.7M382.4 97.7l-0.5 4.0M389.6 98.0l-2.4 3.2M396.3 100.3l-3.1-1.3M401.9 101.3l-1.8-3.2M406.9 101.6l0.8-3.9M412.7 101.5l1.6-3.7M418.5 101.1l2.7-2.9M424.6 101.0l2.9-2.8M431.0 101.2l2.6-3.0M438.3 100.3l0.6-1.3M444.9 100.0l-0.0-0.6M451.1 100.0l0.1-0.7M457.2 99.9l0.4-0.6M463.6 98.5l0.3 2.3M469.8 97.7l0.3 4.0M476.1 97.7l0.4 4.0M482.7 97.9l-0.3 3.4M488.8 99.1l-0.0 1.0M382.1 103.9l0.1 4.0M388.1 104.0l0.8 3.8M394.6 106.6l0.3-1.5M400.7 107.9l0.6-4.0M406.8 107.8l1.0-3.9M412.9 107.8l1.4-3.8M418.9 107.7l1.9-3.5M424.9 107.1l2.4-2.4M431.7 106.3l1.3-0.8M438.4 106.0l0.4-0.3M444.8 106.1l0.2-0.5M451.1 106.3l0.1-0.8M457.3 106.2l0.3-0.5M463.8 104.8l-0.1 2.2M469.9 103.9l0.2 4.0M476.4 103.9l-0.2 4.0M482.5 104.1l0.0 3.7M488.9 105.5l-0.1 0.8M381.9 110.2l0.6 4.0M387.1 110.7l2.8 2.9M392.8 112.6l3.9-0.9M399.9 113.8l2.3-3.3M406.6 114.0l1.4-3.8M412.8 114.0l1.5-3.7M419.5 114.1l0.6-4.0M426.2 113.0l-0.2-1.7M432.6 112.4l-0.5-0.5M438.8 112.2l-0.3-0.2M445.0 112.4l-0.2-0.5M451.3 112.6l-0.2-0.8M457.6 112.5l-0.3-0.7M463.6 110.9l0.3 2.6M470.3 110.2l-0.6 4.0M476.2 110.2l0.2 4.0M482.6 110.4l-0.1 3.5M488.7 111.7l0.1 0.9M381.6 116.5l1.2 3.8M386.8 117.4l3.3 2.0M393.0 119.2l3.4-1.6M399.6 119.8l2.8-2.9M405.9 119.9l2.7-3.0M412.8 120.2l1.6-3.7M419.6 120.0l0.5-3.2M426.5 119.2l-0.8-1.6M432.9 118.4l-1.1 0.1M439.5 118.6l-1.7-0.4M445.4 118.8l-1.1-0.8M451.6 118.7l-0.9-0.7M458.1 118.6l-1.3-0.5M464.4 117.2l-1.5 2.3M470.3 116.4l-0.6 4.0M476.5 116.4l-0.6 4.0M482.6 116.7l-0.2 3.5M489.0 118.0l-0.4 0.9M381.1 123.0l2.1 3.4M386.6 124.0l3.8 1.3M393.0 125.6l3.5-1.9M400.1 126.4l1.9-3.5M406.5 126.5l1.6-3.7M413.5 126.5l0.2-3.7M420.3 125.6l-1.0-1.9M427.1 124.9l-2.1-0.6M434.2 123.9l-3.7 1.5M440.5 125.4l-3.7-1.5M446.3 125.5l-2.7-1.7M451.9 125.1l-1.4-0.9M458.1 124.8l-1.3-0.3M464.1 123.6l-0.8 2.0M470.3 122.7l-0.6 4.0M477.1 122.8l-1.6 3.6M482.9 123.4l-0.7 2.5M488.6 124.3l0.3 0.7M381.2 130.0l2.1 1.8M386.5 130.6l3.9 0.7M393.0 131.8l3.5-1.9M400.0 132.6l2.1-3.4M406.9 132.9l0.7-3.9M413.4 132.3l0.4-2.8M420.1 131.0l-0.6-0.2M427.8 129.9l-3.5 2.0M434.2 130.1l-3.7 1.6M440.4 131.7l-3.6-1.7M446.5 132.1l-3.2-2.4M452.4 132.2l-2.4-2.5M457.8 131.2l-0.8-0.6M464.2 130.0l-0.9 1.7M470.1 128.9l-0.2 4.0M476.0 129.1l0.6 3.7M482.3 129.8l0.4 2.1M488.8 130.7l-0.0 0.5M381.8 137.3l0.8-0.2M387.6 137.2l1.7-0.2M393.8 137.8l1.9-1.4M400.4 138.6l1.3-3.0M407.4 138.6l-0.2-2.9M414.5 137.9l-1.9-1.5M421.6 136.3l-3.6 1.7M427.4 135.6l-2.6 3.0M434.1 136.1l-3.5 2.0M440.3 138.3l-3.3-2.2M446.2 138.7l-2.6-3.1M452.4 138.7l-2.5-3.1M458.3 138.0l-1.7-1.7M464.2 136.4l-1.0 1.5M469.9 135.2l0.2 4.0M476.1 135.3l0.3 3.7M482.4 135.9l0.2 2.5M488.8 136.8l-0.0 0.7M382.2 143.7l0.0-0.6M388.5 143.6l-0.1-0.4M394.7 144.2l-0.0-1.5M401.1 144.4l-0.2-2.0M407.7 144.2l-0.9-1.6M414.9 142.9l-2.6 1.0M421.3 142.1l-3.0 2.7M427.1 141.7l-2.0 3.5M432.9 142.2l-1.1 2.3M439.1 144.6l-1.0-2.3M445.6 145.3l-1.4-3.8M452.0 145.2l-1.6-3.7M458.0 144.9l-1.1-3.0M464.1 142.9l-0.8 1.0M469.9 141.5l0.1 3.8M476.4 141.4l-0.2 3.9M482.6 142.3l-0.2 2.1M488.8 142.9l0.0 0.9M382.4 149.7l-0.4-0.1M389.1 149.7l-1.3-0.2M395.5 150.4l-1.5-1.6M401.6 150.6l-1.3-2.0M408.0 150.0l-1.5-0.7M414.2 148.9l-1.4 1.4M420.3 148.4l-1.1 2.4M425.7 148.2l0.8 2.9M431.4 149.0l1.9 1.4M437.6 150.7l2.2-2.1M444.2 151.5l1.3-3.8M450.8 151.6l0.8-3.9M457.7 151.1l-0.4-3.0M464.0 149.3l-0.6 0.8M470.5 147.9l-0.9 3.4M476.3 147.8l-0.1 3.7M482.5 148.5l-0.0 2.3M488.8 149.2l-0.0 0.8M382.7 155.5l-1.0 0.8M389.4 155.5l-1.9 0.8M396.2 156.6l-3.0-1.3M402.7 156.9l-3.4-2.0M408.8 156.5l-3.0-1.2M414.2 155.7l-1.2 0.4M419.6 155.3l0.3 1.1M425.1 155.4l1.9 1.1M430.7 155.5l3.4 0.9M436.9 156.9l3.4-2.1M443.6 157.4l2.6-3.1M450.5 157.8l1.3-3.8M457.4 156.7l0.1-1.6M464.3 155.4l-1.2 1.1M470.4 154.4l-0.8 3.0M476.3 154.4l-0.2 3.1M482.4 154.6l0.2 2.5M488.8 155.6l-0.0 0.6M382.6 161.1l-0.9 2.1M389.4 161.2l-1.9 1.9M396.5 162.2l-3.5-0.0M402.7 163.1l-3.5-2.0M408.6 163.7l-2.6-3.0M414.1 162.8l-1.1-1.2M419.8 162.3l0.1-0.3M425.5 162.2l1.1-0.2M431.3 162.4l2.2-0.5M437.4 163.0l2.4-1.7M444.0 163.5l1.7-2.7M451.0 163.4l0.3-2.5M457.9 162.4l-0.8-0.5M464.4 161.3l-1.4 1.6M470.4 161.2l-0.9 2.0M476.3 160.8l-0.1 2.6M482.4 160.9l0.3 2.5M488.8 161.7l0.1 0.8M382.2 167.0l-0.1 2.8M388.6 167.1l-0.2 2.6M394.5 168.3l0.4 0.2M400.8 169.8l0.4-2.8M407.2 169.9l0.2-3.0M413.8 169.4l-0.5-1.9M420.0 168.9l-0.3-0.9M426.2 168.8l-0.2-0.8M432.4 168.9l-0.0-1.0M438.7 169.1l-0.1-1.4M445.1 169.4l-0.5-2.0M451.7 169.1l-1.2-1.3M458.3 168.5l-1.7-0.2M464.4 167.9l-1.3 1.1M470.3 167.7l-0.7 1.3M476.4 167.4l-0.2 2.0M482.5 167.1l-0.0 2.5M488.8 167.9l0.0 0.9M381.6 173.6l1.1 2.2M387.4 173.7l2.0 1.9M393.4 174.8l2.7-0.2M399.8 175.7l2.3-2.1M406.6 175.7l1.3-2.1M413.3 175.4l0.5-1.4M419.8 175.1l0.0-0.9M426.1 175.1l-0.1-0.8M432.5 175.1l-0.2-0.9M438.8 175.2l-0.4-1.2M445.3 175.4l-0.7-1.5M451.6 175.2l-0.8-1.1M457.9 174.7l-0.8-0.2M464.0 174.4l-0.6 0.6M470.2 174.0l-0.5 1.2M476.6 173.7l-0.7 1.9M482.7 173.6l-0.4 2.0M488.8 174.2l0.0 1.0M381.4 180.7l1.6 0.4M386.5 180.7l4.0 0.4M392.7 180.8l4.0 0.3M399.8 181.2l2.5-0.5M407.0 181.4l0.6-1.0M413.7 181.3l-0.3-0.8M420.1 181.2l-0.5-0.6M426.4 181.3l-0.6-0.8M432.6 181.4l-0.5-0.9M438.8 181.4l-0.4-1.0M445.2 181.6l-0.6-1.3M451.5 181.5l-0.6-1.1M457.7 181.0l-0.5-0.2M463.9 180.7l-0.5 0.4M470.2 180.2l-0.4 1.3M476.4 179.9l-0.3 2.0M482.7 180.1l-0.3 1.6M488.8 180.5l-0.0 0.8M381.3 188.0l1.7-1.7M386.8 188.2l3.4-2.1M393.0 186.2l3.6 1.8M400.0 186.2l2.0 1.9M407.1 187.0l0.4 0.2M413.7 187.3l-0.3-0.4M420.1 187.4l-0.6-0.4M426.4 187.5l-0.6-0.8M432.6 187.7l-0.6-1.2M438.8 187.6l-0.4-0.9M445.2 187.7l-0.7-1.2M451.5 187.7l-0.7-1.2M457.9 187.3l-0.9-0.2M464.2 186.9l-1.0 0.5M470.4 186.6l-0.9 1.0M476.6 186.2l-0.7 2.0M482.7 186.4l-0.3 1.4M488.8 186.9l0.0 0.6M381.5 195.1l1.5-3.4M387.5 194.4l1.9-2.0M394.0 192.2l1.6 2.3M400.5 191.8l1.1 3.2M407.0 192.8l0.5 1.1M413.6 193.4l-0.0 0.1M419.9 193.6l-0.2-0.4M426.2 193.8l-0.2-0.8M432.5 194.0l-0.3-1.1M438.9 193.9l-0.5-1.0M445.2 193.9l-0.6-0.9M451.7 193.7l-1.2-0.7M458.2 193.4l-1.6-0.0M464.5 193.2l-1.7 0.4M470.8 192.9l-1.6 1.0M476.8 192.8l-1.2 1.2M482.6 193.0l-0.2 0.8M488.8 193.1l0.0 0.5M381.9 201.6l0.6-4.0M388.2 200.5l0.6-1.7M394.5 198.5l0.5 2.4M400.6 197.8l0.8 3.7M407.1 198.9l0.3 1.5M413.5 199.5l0.1 0.3M419.8 199.8l0.1-0.3M426.1 200.0l0.0-0.6M432.5 200.1l-0.2-0.9M439.0 200.0l-0.7-0.8M445.4 199.9l-1.0-0.5M451.8 199.7l-1.3-0.2M458.2 199.6l-1.5 0.2M464.4 199.5l-1.4 0.3M470.5 199.3l-1.0 0.8M476.5 199.4l-0.6 0.5M482.7 199.5l-0.4 0.4M488.9 199.4l-0.3 0.5M382.3 207.9l-0.2-4.0M388.5 206.6l-0.1-1.4M394.7 204.9l0.0 2.0M401.0 204.0l-0.0 3.9M407.3 205.1l-0.0 1.7M413.6 205.7l-0.0 0.3M419.9 206.0l-0.1-0.3M426.3 206.1l-0.4-0.5M432.7 206.1l-0.7-0.4M439.2 206.1l-1.1-0.4M445.5 206.1l-1.2-0.3M451.8 206.0l-1.2-0.1M458.0 205.8l-1.1 0.1M464.2 205.9l-1.0 0.0M470.3 205.8l-0.6 0.3M476.4 205.7l-0.4 0.4M482.7 205.7l-0.4 0.3M489.0 205.7l-0.4 0.4M382.5 214.1l-0.7-3.9M389.0 212.9l-1.2-1.5M395.4 211.1l-1.2 2.0M401.5 210.4l-0.9 3.4M407.4 211.4l-0.3 1.5M413.6 211.9l-0.2 0.5M420.2 212.1l-0.8 0.2M426.7 212.2l-1.3-0.1M433.1 212.2l-1.6-0.2M439.4 212.4l-1.5-0.4M445.5 212.4l-1.2-0.5M451.6 212.3l-0.9-0.3M457.8 212.2l-0.6-0.0M464.0 212.2l-0.7-0.0M470.3 212.1l-0.7 0.1M476.5 212.0l-0.5 0.2M482.7 212.0l-0.4 0.3M488.9 212.0l-0.3 0.4M382.9 219.9l-1.3-3.0M389.7 219.0l-2.4-1.2M396.0 217.5l-2.4 1.8M401.7 217.1l-1.4 2.5M407.6 217.9l-0.7 1.0M413.9 218.0l-0.7 0.9M420.2 218.1l-0.8 0.6M426.6 218.3l-1.0 0.3M432.9 218.5l-1.1-0.2M439.1 218.7l-1.0-0.7M445.3 218.8l-0.7-0.8M451.4 218.7l-0.5-0.6M457.6 218.4l-0.4-0.1M463.9 218.4l-0.4 0.1M470.2 218.4l-0.4-0.0M476.4 218.4l-0.4 0.1M482.7 218.3l-0.3 0.3M489.0 218.2l-0.3 0.3M383.0 225.2l-1.5-1.2M389.8 225.0l-2.8-0.7M396.1 224.1l-2.7 1.1M401.7 224.0l-1.4 1.3M407.6 224.2l-0.7 1.0M413.9 224.3l-0.7 0.7M420.1 224.4l-0.5 0.6M426.3 224.5l-0.3 0.2M432.5 224.8l-0.2-0.3M438.7 225.0l-0.2-0.7M445.0 225.1l-0.3-0.9M451.3 224.9l-0.3-0.6M457.6 224.7l-0.4-0.2M463.9 224.6l-0.3 0.0M470.1 224.7l-0.3-0.0M476.4 224.6l-0.3 0.0M482.6 224.5l-0.2 0.3M488.9 224.5l-0.3 0.3M382.6 231.0l-0.7-0.1M389.1 231.0l-1.3-0.3M395.3 230.7l-1.1 0.5M401.4 230.7l-0.7 0.5M407.5 230.5l-0.3 0.7M413.5 230.7l0.1 0.5M419.7 230.7l0.2 0.4M426.0 230.8l0.3 0.1M432.2 231.1l0.4-0.3M438.5 231.2l0.3-0.6M445.0 231.2l-0.1-0.6M451.4 231.1l-0.5-0.5M457.7 231.0l-0.4-0.2M463.9 230.9l-0.4 0.0M470.2 230.9l-0.4-0.0M476.4 230.9l-0.3-0.0M482.6 230.8l-0.2 0.2M488.8 230.8l-0.0 0.3M382.3 237.1l-0.1 0.0M388.6 237.1l-0.2 0.0M394.8 237.1l-0.1 0.1M401.0 237.0l0.1 0.3M407.1 237.0l0.3 0.3M413.3 237.0l0.5 0.2M419.5 237.0l0.7 0.3M425.6 237.1l1.0 0.1M431.9 237.3l0.8-0.3M438.3 237.3l0.6-0.3M444.7 237.2l0.4-0.2M451.0 237.3l0.3-0.4M457.5 237.2l-0.0-0.2M463.8 237.1l-0.1 0.0M470.0 237.2l-0.1-0.0M476.3 237.2l-0.2-0.1M482.6 237.1l-0.1 0.0M488.8 237.1l0.0 0.2"/></g></g><rect x="376.70" y="17.00" width="113.10" height="226.00" fill="none" stroke="#262626" stroke-opacity="0.35" stroke-width="0.6"/><linearGradient id="cbg" x1="0" y1="1" x2="0" y2="0"><stop offset="0.00000" stop-color="#00008f"/><stop offset="0.01562" stop-color="#00008f"/><stop offset="0.01562" stop-color="#00009f"/><stop offset="0.03125" stop-color="#00009f"/><stop offset="0.03125" stop-color="#0000af"/><stop offset="0.04688" stop-color="#0000af"/><stop offset="0.04688" stop-color="#0000bf"/><stop offset="0.06250" stop-color="#0000bf"/><stop offset="0.06250" stop-color="#0000cf"/><stop offset="0.07812" stop-color="#0000cf"/><stop offset="0.07812" stop-color="#0000df"/><stop offset="0.09375" stop-color="#0000df"/><stop offset="0.09375" stop-color="#0000ef"/><stop offset="0.10938" stop-color="#0000ef"/><stop offset="0.10938" stop-color="#0000ff"/><stop offset="0.12500" stop-color="#0000ff"/><stop offset="0.12500" stop-color="#0010ff"/><stop offset="0.14062" stop-color="#0010ff"/><stop offset="0.14062" stop-color="#0020ff"/><stop offset="0.15625" stop-color="#0020ff"/><stop offset="0.15625" stop-color="#0030ff"/><stop offset="0.17188" stop-color="#0030ff"/><stop offset="0.17188" stop-color="#0040ff"/><stop offset="0.18750" stop-color="#0040ff"/><stop offset="0.18750" stop-color="#0050ff"/><stop offset="0.20312" stop-color="#0050ff"/><stop offset="0.20312" stop-color="#0060ff"/><stop offset="0.21875" stop-color="#0060ff"/><stop offset="0.21875" stop-color="#0070ff"/><stop offset="0.23438" stop-color="#0070ff"/><stop offset="0.23438" stop-color="#0080ff"/><stop offset="0.25000" stop-color="#0080ff"/><stop offset="0.25000" stop-color="#008fff"/><stop offset="0.26562" stop-color="#008fff"/><stop offset="0.26562" stop-color="#009fff"/><stop offset="0.28125" stop-color="#009fff"/><stop offset="0.28125" stop-color="#00afff"/><stop offset="0.29688" stop-color="#00afff"/><stop offset="0.29688" stop-color="#00bfff"/><stop offset="0.31250" stop-color="#00bfff"/><stop offset="0.31250" stop-color="#00cfff"/><stop offset="0.32812" stop-color="#00cfff"/><stop offset="0.32812" stop-color="#00dfff"/><stop offset="0.34375" stop-color="#00dfff"/><stop offset="0.34375" stop-color="#00efff"/><stop offset="0.35938" stop-color="#00efff"/><stop offset="0.35938" stop-color="#00ffff"/><stop offset="0.37500" stop-color="#00ffff"/><stop offset="0.37500" stop-color="#00ffe6"/><stop offset="0.39062" stop-color="#00ffe6"/><stop offset="0.39062" stop-color="#00ffd9"/><stop offset="0.40625" stop-color="#00ffd9"/><stop offset="0.40625" stop-color="#00ffcc"/><stop offset="0.42188" stop-color="#00ffcc"/><stop offset="0.42188" stop-color="#00ffc0"/><stop offset="0.43750" stop-color="#00ffc0"/><stop offset="0.43750" stop-color="#00ffb4"/><stop offset="0.45312" stop-color="#00ffb4"/><stop offset="0.45312" stop-color="#00ffa0"/><stop offset="0.46875" stop-color="#00ffa0"/><stop offset="0.46875" stop-color="#00ff8c"/><stop offset="0.48438" stop-color="#00ff8c"/><stop offset="0.48438" stop-color="#00ff80"/><stop offset="0.50000" stop-color="#00ff80"/><stop offset="0.50000" stop-color="#00ff66"/><stop offset="0.51562" stop-color="#00ff66"/><stop offset="0.51562" stop-color="#55ff55"/><stop offset="0.53125" stop-color="#55ff55"/><stop offset="0.53125" stop-color="#80ff33"/><stop offset="0.54688" stop-color="#80ff33"/><stop offset="0.54688" stop-color="#a0ff10"/><stop offset="0.56250" stop-color="#a0ff10"/><stop offset="0.56250" stop-color="#bbff00"/><stop offset="0.57812" stop-color="#bbff00"/><stop offset="0.57812" stop-color="#d0ff00"/><stop offset="0.59375" stop-color="#d0ff00"/><stop offset="0.59375" stop-color="#e6ff00"/><stop offset="0.60938" stop-color="#e6ff00"/><stop offset="0.60938" stop-color="#f8ff00"/><stop offset="0.62500" stop-color="#f8ff00"/><stop offset="0.62500" stop-color="#fff000"/><stop offset="0.64062" stop-color="#fff000"/><stop offset="0.64062" stop-color="#ffdf00"/><stop offset="0.65625" stop-color="#ffdf00"/><stop offset="0.65625" stop-color="#ffcf00"/><stop offset="0.67188" stop-color="#ffcf00"/><stop offset="0.67188" stop-color="#ffbf00"/><stop offset="0.68750" stop-color="#ffbf00"/><stop offset="0.68750" stop-color="#ffaf00"/><stop offset="0.70312" stop-color="#ffaf00"/><stop offset="0.70312" stop-color="#ff9f00"/><stop offset="0.71875" stop-color="#ff9f00"/><stop offset="0.71875" stop-color="#ff8f00"/><stop offset="0.73438" stop-color="#ff8f00"/><stop offset="0.73438" stop-color="#ff8000"/><stop offset="0.75000" stop-color="#ff8000"/><stop offset="0.75000" stop-color="#ff7000"/><stop offset="0.76562" stop-color="#ff7000"/><stop offset="0.76562" stop-color="#ff6000"/><stop offset="0.78125" stop-color="#ff6000"/><stop offset="0.78125" stop-color="#ff5000"/><stop offset="0.79688" stop-color="#ff5000"/><stop offset="0.79688" stop-color="#ff4000"/><stop offset="0.81250" stop-color="#ff4000"/><stop offset="0.81250" stop-color="#ff3000"/><stop offset="0.82812" stop-color="#ff3000"/><stop offset="0.82812" stop-color="#ff2000"/><stop offset="0.84375" stop-color="#ff2000"/><stop offset="0.84375" stop-color="#ff1000"/><stop offset="0.85938" stop-color="#ff1000"/><stop offset="0.85938" stop-color="#ff0000"/><stop offset="0.87500" stop-color="#ff0000"/><stop offset="0.87500" stop-color="#fa0000"/><stop offset="0.89062" stop-color="#fa0000"/><stop offset="0.89062" stop-color="#ee0000"/><stop offset="0.90625" stop-color="#ee0000"/><stop offset="0.90625" stop-color="#e00000"/><stop offset="0.92188" stop-color="#e00000"/><stop offset="0.92188" stop-color="#d40000"/><stop offset="0.93750" stop-color="#d40000"/><stop offset="0.93750" stop-color="#c80000"/><stop offset="0.95312" stop-color="#c80000"/><stop offset="0.95312" stop-color="#b40000"/><stop offset="0.96875" stop-color="#b40000"/><stop offset="0.96875" stop-color="#a00000"/><stop offset="0.98438" stop-color="#a00000"/><stop offset="0.98438" stop-color="#8b0000"/><stop offset="1.00000" stop-color="#8b0000"/></linearGradient><rect x="509.40" y="17.00" width="16.80" height="226.00" fill="url(#cbg)" stroke="#555" stroke-width="0.9"/><text transform="translate(39.60 247.30) scale(1 1.060)" text-anchor="end" class="tk">0</text><text transform="translate(39.60 224.70) scale(1 1.060)" text-anchor="end" class="tk">200</text><text transform="translate(39.60 202.10) scale(1 1.060)" text-anchor="end" class="tk">400</text><text transform="translate(39.60 179.50) scale(1 1.060)" text-anchor="end" class="tk">600</text><text transform="translate(39.60 156.90) scale(1 1.060)" text-anchor="end" class="tk">800</text><text transform="translate(39.60 134.30) scale(1 1.060)" text-anchor="end" class="tk">1000</text><text transform="translate(39.60 111.70) scale(1 1.060)" text-anchor="end" class="tk">1200</text><text transform="translate(39.60 89.10) scale(1 1.060)" text-anchor="end" class="tk">1400</text><text transform="translate(39.60 66.50) scale(1 1.060)" text-anchor="end" class="tk">1600</text><text transform="translate(39.60 43.90) scale(1 1.060)" text-anchor="end" class="tk">1800</text><text transform="translate(39.60 21.30) scale(1 1.060)" text-anchor="end" class="tk">2000</text><text transform="translate(43.50 257.20) scale(1 1.060)" text-anchor="middle" class="tk">0</text><text transform="translate(100.25 257.20) scale(1 1.060)" text-anchor="middle" class="tk">500</text><text transform="translate(157.00 257.20) scale(1 1.060)" text-anchor="middle" class="tk">1000</text><text transform="translate(100.25 269.40) scale(1 1.060)" text-anchor="middle" class="tk">km</text><text transform="translate(13.90 130.00) rotate(-90)" text-anchor="middle" class="tk">km</text><text transform="translate(204.60 247.30) scale(1 1.060)" text-anchor="end" class="tk">0</text><text transform="translate(204.60 224.70) scale(1 1.060)" text-anchor="end" class="tk">200</text><text transform="translate(204.60 202.10) scale(1 1.060)" text-anchor="end" class="tk">400</text><text transform="translate(204.60 179.50) scale(1 1.060)" text-anchor="end" class="tk">600</text><text transform="translate(204.60 156.90) scale(1 1.060)" text-anchor="end" class="tk">800</text><text transform="translate(204.60 134.30) scale(1 1.060)" text-anchor="end" class="tk">1000</text><text transform="translate(204.60 111.70) scale(1 1.060)" text-anchor="end" class="tk">1200</text><text transform="translate(204.60 89.10) scale(1 1.060)" text-anchor="end" class="tk">1400</text><text transform="translate(204.60 66.50) scale(1 1.060)" text-anchor="end" class="tk">1600</text><text transform="translate(204.60 43.90) scale(1 1.060)" text-anchor="end" class="tk">1800</text><text transform="translate(204.60 21.30) scale(1 1.060)" text-anchor="end" class="tk">2000</text><text transform="translate(208.50 257.20) scale(1 1.060)" text-anchor="middle" class="tk">0</text><text transform="translate(265.15 257.20) scale(1 1.060)" text-anchor="middle" class="tk">500</text><text transform="translate(321.80 257.20) scale(1 1.060)" text-anchor="middle" class="tk">1000</text><text transform="translate(265.15 269.40) scale(1 1.060)" text-anchor="middle" class="tk">km</text><text transform="translate(178.90 130.00) rotate(-90)" text-anchor="middle" class="tk">km</text><text transform="translate(372.80 247.30) scale(1 1.060)" text-anchor="end" class="tk">0</text><text transform="translate(372.80 224.70) scale(1 1.060)" text-anchor="end" class="tk">200</text><text transform="translate(372.80 202.10) scale(1 1.060)" text-anchor="end" class="tk">400</text><text transform="translate(372.80 179.50) scale(1 1.060)" text-anchor="end" class="tk">600</text><text transform="translate(372.80 156.90) scale(1 1.060)" text-anchor="end" class="tk">800</text><text transform="translate(372.80 134.30) scale(1 1.060)" text-anchor="end" class="tk">1000</text><text transform="translate(372.80 111.70) scale(1 1.060)" text-anchor="end" class="tk">1200</text><text transform="translate(372.80 89.10) scale(1 1.060)" text-anchor="end" class="tk">1400</text><text transform="translate(372.80 66.50) scale(1 1.060)" text-anchor="end" class="tk">1600</text><text transform="translate(372.80 43.90) scale(1 1.060)" text-anchor="end" class="tk">1800</text><text transform="translate(372.80 21.30) scale(1 1.060)" text-anchor="end" class="tk">2000</text><text transform="translate(376.70 257.20) scale(1 1.060)" text-anchor="middle" class="tk">0</text><text transform="translate(433.25 257.20) scale(1 1.060)" text-anchor="middle" class="tk">500</text><text transform="translate(489.80 257.20) scale(1 1.060)" text-anchor="middle" class="tk">1000</text><text transform="translate(433.25 269.40) scale(1 1.060)" text-anchor="middle" class="tk">km</text><text transform="translate(347.10 130.00) rotate(-90)" text-anchor="middle" class="tk">km</text><text transform="translate(100.25 14.60) scale(1 1.070)" text-anchor="middle" class="tt">SSH steady solution</text><text transform="translate(265.15 14.60) scale(1 1.070)" text-anchor="middle" class="tt">SSH climatological solution</text><text transform="translate(433.25 14.60) scale(1 1.070)" text-anchor="middle" class="tt">SSH nature run - t=0</text><text transform="translate(77.80 302.40)" text-anchor="middle" class="lb">(a)</text><text transform="translate(267.30 302.40)" text-anchor="middle" class="lb">(b)</text><text transform="translate(434.80 302.40)" text-anchor="middle" class="lb">(c)</text><text transform="translate(530.00 230.50) scale(1 1.060)" class="tk">-0.3</text><line x1="524.00" x2="526.20" y1="226.30" y2="226.30" stroke="#333" stroke-width="0.9"/><text transform="translate(530.00 198.40) scale(1 1.060)" class="tk">-0.2</text><line x1="524.00" x2="526.20" y1="194.20" y2="194.20" stroke="#333" stroke-width="0.9"/><text transform="translate(530.00 166.30) scale(1 1.060)" class="tk">-0.1</text><line x1="524.00" x2="526.20" y1="162.10" y2="162.10" stroke="#333" stroke-width="0.9"/><text transform="translate(530.00 134.20) scale(1 1.060)" class="tk">0</text><line x1="524.00" x2="526.20" y1="130.00" y2="130.00" stroke="#333" stroke-width="0.9"/><text transform="translate(530.00 102.10) scale(1 1.060)" class="tk">0.1</text><line x1="524.00" x2="526.20" y1="97.90" y2="97.90" stroke="#333" stroke-width="0.9"/><text transform="translate(530.00 70.00) scale(1 1.060)" class="tk">0.2</text><line x1="524.00" x2="526.20" y1="65.80" y2="65.80" stroke="#333" stroke-width="0.9"/><text transform="translate(530.00 37.90) scale(1 1.060)" class="tk">0.3</text><line x1="524.00" x2="526.20" y1="33.70" y2="33.70" stroke="#333" stroke-width="0.9"/></svg></body></html>
